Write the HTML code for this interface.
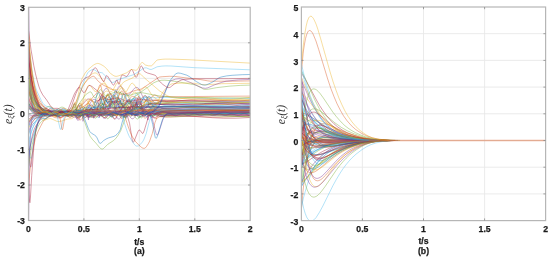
<!DOCTYPE html>
<html><head><meta charset="utf-8"><style>
html,body{margin:0;padding:0;background:#fff;width:550px;height:259px;overflow:hidden}
svg{display:block}
</style></head><body>
<svg width="550" height="259" viewBox="0 0 550 259">
<defs><clipPath id="cl"><rect x="28.5" y="7.3" width="221.7" height="213.2"/></clipPath>
<clipPath id="cr"><rect x="301.4" y="7.0" width="244.2" height="213.6"/></clipPath></defs>
<path d="M83.9 7.3V220.5M362.4 7.0V220.6M139.3 7.3V220.5M423.5 7.0V220.6M194.8 7.3V220.5M484.6 7.0V220.6M28.5 185.0H250.2M28.5 149.4H250.2M28.5 113.9H250.2M28.5 78.4H250.2M28.5 42.8H250.2M301.4 193.9H545.6M301.4 167.2H545.6M301.4 140.5H545.6M301.4 113.8H545.6M301.4 87.1H545.6M301.4 60.4H545.6M301.4 33.7H545.6" stroke="#e9e9e9" stroke-width="0.9" fill="none"/>
<g fill="none" stroke-width="0.5" stroke-opacity="0.85" stroke-linejoin="round" clip-path="url(#cl)">
<path stroke="#7E2F8E" d="M28.5 85.0L30.4 94.9 32.6 102.2 33.7 104.7 34.8 106.6 36.1 108.0 37.7 109.4 42.9 112.9 44.9 113.8 47.1 114.0 51.0 113.0 52.7 112.9 54.5 113.5 58.2 115.6 59.7 115.9 61.6 115.6 64.9 113.8 65.8 113.7 67.7 113.8 68.6 113.6 71.4 111.6 71.9 111.4 72.5 111.4 73.0 111.7 73.8 112.6 76.4 117.8 76.9 118.5 77.5 118.8 78.0 118.6 78.6 118.1 81.3 112.8 82.1 111.8 82.8 111.3 83.4 111.3 84.1 111.8 86.9 115.5 87.6 116.2 88.4 116.5 89.8 116.4 96.9 113.3 98.3 113.0 99.1 113.2 99.8 113.7 102.8 117.3 103.5 117.9 104.1 118.0 104.6 117.8 105.4 117.0 108.1 111.7 108.9 110.8 109.4 110.6 110.0 110.8 110.7 111.6 113.5 117.9 114.2 118.9 115.0 119.3 115.5 119.0 116.3 118.0 119.0 111.8 119.8 110.8 120.3 110.6 120.9 110.7 121.6 111.5 124.6 117.1 125.3 117.8 125.9 118.0 126.4 117.9 127.0 117.5 129.6 114.1 130.3 113.4 131.0 113.0 131.8 112.9 132.7 113.1 139.9 116.4 141.2 116.6 142.5 116.0 145.3 112.7 146.0 112.1 146.6 111.9 147.1 112.0 147.8 112.6 150.6 116.6 151.4 117.4 152.1 117.6 152.7 117.4 153.4 116.9 156.0 113.7 156.7 113.1 157.3 113.0 158.6 113.5 161.3 115.7 162.6 116.0 167.2 115.1 171.5 115.2 186.5 114.4 195.0 114.2 205.7 114.4 231.9 115.9 240.6 115.9 250.2 115.6"/>
<path stroke="#EDB120" d="M28.5 35.7L29.8 56.0 31.4 73.6 33.1 87.5 35.0 97.3 36.5 102.5 37.4 104.3 38.3 105.6 39.8 107.0 45.3 110.8 46.8 111.6 48.4 111.8 51.2 111.4 52.5 111.4 53.8 111.8 56.6 112.9 58.1 113.1 59.5 112.7 62.7 110.7 64.0 110.5 65.5 110.9 68.8 112.9 70.4 113.3 71.9 113.2 76.2 112.0 78.9 111.7 81.0 111.8 85.8 112.4 90.4 111.7 91.9 111.6 93.3 111.8 96.9 112.8 98.5 112.9 100.2 112.1 101.7 110.3 103.0 107.7 105.5 101.0 106.8 99.0 107.6 98.7 108.3 99.2 109.1 100.2 111.3 104.4 112.0 105.2 112.6 105.3 113.1 105.0 113.9 104.0 116.6 98.0 117.2 97.4 117.7 97.2 118.3 97.5 119.0 98.6 121.4 104.8 122.4 106.2 122.7 106.4 123.1 106.3 124.8 104.3 125.1 104.1 125.5 104.3 126.2 105.4 127.9 109.8 128.4 110.6 128.8 110.7 129.2 110.6 129.7 109.8 131.6 105.1 132.1 104.4 132.5 104.4 132.9 104.7 133.4 105.8 135.1 110.7 135.8 112.4 136.8 113.5 137.9 113.9 143.2 113.0 144.7 113.1 148.2 114.2 149.9 114.4 151.5 114.2 155.2 113.3 156.9 113.1 162.8 113.7 170.0 113.4 221.6 113.9 250.2 113.8"/>
<path stroke="#D95319" d="M28.5 62.7L29.8 75.3 31.3 85.5 32.9 93.5 35.0 100.2 37.1 104.9 38.3 106.7 39.5 108.1 40.8 109.2 42.4 110.2 44.5 111.1 46.6 111.7 48.1 112.0 49.6 112.0 54.0 111.1 55.8 111.0 57.7 111.3 61.4 112.5 63.4 112.8 64.7 112.6 67.5 111.5 68.6 111.4 69.9 111.9 72.3 113.7 73.4 113.9 74.1 113.4 75.1 112.0 78.4 104.7 79.1 103.8 79.7 103.6 80.2 103.7 81.0 104.5 83.7 110.1 84.5 111.2 85.2 111.7 86.1 111.7 88.4 110.3 89.5 110.1 90.6 110.6 93.2 112.7 94.5 113.0 95.6 112.6 97.8 111.3 98.9 111.1 100.0 111.5 102.6 113.5 103.7 113.7 105.0 113.0 107.8 109.9 108.5 109.5 109.1 109.5 109.6 109.7 110.3 110.3 112.9 114.0 114.0 114.9 114.6 115.0 115.1 114.9 117.2 113.4 117.7 113.3 118.1 113.4 119.0 114.6 120.7 117.8 121.6 118.6 122.5 118.2 124.6 116.0 129.0 112.3 129.7 111.8 130.5 111.7 131.6 112.1 134.2 114.3 135.3 114.8 136.6 114.7 139.0 113.7 140.3 113.8 141.4 114.7 143.6 117.2 144.7 118.0 145.4 118.0 146.2 117.7 149.0 115.1 150.3 114.6 151.5 115.2 154.5 118.0 155.8 118.5 157.1 118.2 159.9 116.7 161.2 116.5 166.1 117.3 179.1 116.6 188.5 116.4 219.0 117.1 250.2 116.1"/>
<path stroke="#0072BD" d="M28.5 84.7L30.7 93.5 31.7 96.4 32.8 98.7 34.3 100.5 36.9 102.4 38.1 103.5 39.4 105.2 42.8 110.7 43.9 111.8 44.9 112.2 45.6 112.2 46.3 111.8 49.7 108.7 50.5 108.2 51.2 108.1 52.0 108.2 52.7 108.5 56.4 112.2 57.3 112.8 58.1 112.9 59.5 112.6 62.7 110.2 64.2 109.7 65.5 110.1 68.0 111.7 69.3 112.1 73.0 111.4 76.2 111.2 79.9 110.4 81.3 110.7 84.1 111.9 85.2 112.1 86.3 111.8 88.7 110.5 89.8 110.3 90.9 110.6 93.5 111.9 94.8 112.0 95.9 111.5 98.7 109.4 100.9 108.6 101.7 108.1 102.8 106.3 104.8 101.2 105.4 100.5 105.7 100.4 106.5 100.9 108.3 104.0 109.4 105.2 111.8 106.7 113.3 107.1 114.0 107.0 114.8 106.6 117.4 104.2 118.5 103.5 119.8 103.5 122.4 105.1 123.6 105.3 124.9 104.8 127.2 103.1 128.3 102.7 129.4 103.0 132.0 105.0 133.3 105.4 134.5 104.9 136.9 103.0 138.1 102.6 139.3 103.1 141.8 105.1 142.9 105.4 144.0 105.0 146.6 103.1 147.7 102.8 148.8 103.1 151.4 104.8 152.5 105.0 153.6 104.7 156.0 103.7 157.1 103.5 158.2 103.7 160.6 104.4 161.9 104.6 166.0 104.2 170.2 104.2 193.5 103.4 203.6 103.5 230.1 104.1 239.3 104.0 250.2 103.6"/>
<path stroke="#A2142F" d="M28.5 105.4L31.4 108.7 33.7 110.5 34.9 110.9 36.1 111.0 40.2 110.0 42.0 110.1 43.8 111.3 47.4 115.0 48.4 115.5 49.2 115.7 50.0 115.6 50.9 115.1 54.4 111.8 55.3 111.3 56.0 111.1 57.5 111.4 60.8 113.3 62.5 113.8 64.0 113.8 67.3 113.1 70.4 113.0 71.7 112.7 73.6 111.4 77.8 107.3 82.3 104.5 86.7 99.8 87.6 99.2 88.4 99.0 89.8 99.4 93.2 101.7 94.8 102.3 96.3 102.0 99.8 99.7 101.7 99.2 103.0 99.4 106.3 100.8 108.3 101.3 110.9 101.6 114.2 101.5 115.3 101.7 116.3 102.1 117.2 103.0 120.3 107.3 121.1 108.0 121.8 108.2 122.5 107.9 123.5 107.2 127.3 101.8 128.3 101.1 129.0 100.9 130.3 101.4 133.1 104.0 134.4 104.7 135.5 104.8 137.9 104.0 139.0 103.9 140.1 104.2 142.3 105.2 143.4 105.4 144.5 105.3 147.8 104.1 149.1 104.1 151.5 104.9 152.8 105.1 154.1 105.0 156.7 104.3 158.0 104.1 162.1 104.6 166.5 104.7 176.7 105.8 185.2 106.0 192.2 105.6 207.7 103.9 215.8 103.6 224.0 104.1 241.5 106.0 250.2 106.3"/>
<path stroke="#4DBEEE" d="M28.5 76.5L30.4 85.9 32.7 94.5 35.0 100.6 37.3 104.8 39.9 107.7 43.3 110.1 45.5 111.1 50.0 112.5 54.2 114.6 55.7 115.1 56.6 115.1 57.7 114.9 61.6 112.7 63.4 112.4 64.5 112.6 65.6 113.1 69.7 115.8 70.8 116.0 71.7 115.8 74.9 113.7 75.8 113.3 77.3 113.1 77.8 112.7 78.6 111.2 80.0 105.9 80.6 105.1 81.0 105.4 81.3 106.3 83.0 112.3 83.7 113.3 84.5 113.4 86.3 112.4 88.5 111.8 89.7 110.9 90.9 108.9 93.5 103.2 94.6 101.7 95.2 101.5 95.9 101.8 98.9 106.1 99.6 106.8 100.4 106.9 101.1 106.5 101.8 105.5 105.0 99.5 105.7 98.8 106.3 98.6 106.8 98.7 107.6 99.4 110.5 104.2 111.3 105.0 112.0 105.2 112.6 105.1 113.3 104.5 116.3 100.1 117.0 99.3 117.7 98.9 118.5 98.9 119.4 99.4 122.5 103.3 123.3 103.9 124.0 104.2 124.8 104.3 125.7 103.9 129.4 100.3 130.3 99.7 131.2 99.4 132.0 99.6 132.9 100.1 136.2 103.8 137.1 104.4 137.9 104.6 138.6 104.4 139.3 103.8 142.5 99.4 143.2 98.8 143.8 98.8 144.3 99.0 145.1 99.9 148.2 106.1 149.0 107.2 149.9 108.1 151.2 108.6 156.7 109.2 161.3 110.4 171.7 110.5 194.0 108.6 204.8 108.2 214.7 108.5 237.5 110.2 243.9 110.4 250.2 110.3"/>
<path stroke="#77AC30" d="M28.5 89.2L30.5 96.0 31.5 98.4 32.6 100.1 33.9 101.5 37.6 103.9 41.5 108.3 42.4 108.9 43.3 109.1 44.7 108.9 47.8 106.8 49.3 106.4 50.9 106.9 54.0 109.4 55.5 110.0 56.2 110.0 57.1 109.7 60.3 107.6 61.9 107.1 63.4 107.4 66.9 109.4 68.6 109.8 70.1 109.2 72.7 107.3 73.8 107.0 74.9 107.5 77.3 109.7 78.4 110.1 79.5 109.7 81.9 107.6 83.2 107.0 84.5 107.5 87.1 109.7 88.2 110.1 89.5 109.5 91.9 107.3 93.0 106.9 94.3 107.2 97.0 108.9 97.8 109.0 98.3 108.9 99.4 108.0 102.2 104.6 103.1 104.0 103.9 103.9 104.8 104.1 106.6 105.3 107.8 105.7 108.9 105.5 111.1 104.4 112.2 104.5 113.3 105.4 115.9 108.9 116.6 109.4 117.2 109.5 117.7 109.2 118.5 108.5 121.2 104.2 121.8 103.8 122.4 103.6 122.9 103.8 123.6 104.6 126.2 109.3 127.3 110.4 127.9 110.5 128.6 110.2 131.6 106.4 132.3 105.8 133.1 105.7 134.0 106.2 136.4 108.9 137.5 109.7 138.6 109.6 141.0 108.3 142.1 108.5 143.2 109.5 145.6 113.1 146.7 113.8 147.8 113.4 150.4 110.5 151.2 110.0 151.7 109.9 152.8 110.3 155.4 112.6 156.5 112.9 157.6 112.7 160.0 111.5 161.2 111.2 162.3 111.4 164.8 112.3 166.1 112.5 187.2 112.8 203.1 112.4 236.2 110.8 250.2 110.4"/>
<path stroke="#7E2F8E" d="M28.5 122.8L30.7 119.8 33.6 117.4 35.5 116.4 42.7 113.6 44.2 113.2 45.5 113.3 49.7 114.9 51.4 115.1 53.1 114.6 56.4 112.8 57.9 112.5 59.4 112.7 62.7 114.1 64.3 114.4 69.1 114.2 70.4 114.0 72.7 113.1 73.8 113.1 74.5 113.8 75.1 114.7 77.3 119.9 77.8 120.4 78.2 120.4 79.1 119.4 81.7 114.8 85.4 111.2 86.9 109.4 88.2 107.3 90.9 102.1 92.4 100.1 93.3 99.5 94.3 99.4 95.2 99.7 96.9 100.6 97.8 100.8 98.7 100.5 99.6 99.7 101.1 97.4 104.2 90.4 105.5 88.6 106.5 88.3 107.0 88.5 107.6 89.1 108.5 90.5 111.3 96.1 112.2 97.2 113.1 97.4 113.9 96.9 114.8 95.5 118.3 87.4 119.2 86.2 120.0 85.8 120.9 86.1 121.8 87.1 124.6 92.3 125.7 94.0 126.6 94.9 127.5 95.2 128.4 95.0 129.6 94.2 133.3 89.6 134.7 88.1 136.2 87.4 137.5 87.6 138.4 88.3 139.3 89.5 142.9 96.9 143.8 98.5 144.9 99.8 146.0 100.6 151.2 103.6 156.2 104.7 157.8 104.8 161.5 104.1 163.6 103.9 172.1 104.0 190.0 104.9 197.7 105.0 220.1 103.9 227.7 103.7 235.6 103.9 250.2 104.7"/>
<path stroke="#EDB120" d="M28.5 55.2L29.8 68.0 31.3 79.0 32.8 87.5 34.8 94.9 37.6 102.4 39.0 105.5 40.5 108.1 41.9 109.9 43.4 111.4 44.9 112.4 46.5 113.0 48.0 113.2 49.6 113.1 54.4 111.6 56.2 111.5 58.2 112.2 62.1 114.9 63.8 115.4 65.1 115.1 67.7 113.5 69.0 113.1 70.3 113.5 72.7 114.9 73.9 115.0 75.1 114.4 77.6 112.1 78.8 111.6 79.9 111.9 82.4 113.3 83.6 113.4 84.5 112.6 85.2 111.3 86.1 108.8 88.7 100.5 89.7 98.7 90.4 98.2 90.9 98.4 91.7 99.4 93.9 104.8 95.0 106.8 95.7 107.6 97.6 108.9 98.5 109.2 99.1 108.7 99.6 107.5 101.5 100.1 102.4 97.6 102.8 97.2 103.1 97.2 104.6 98.5 105.2 98.5 105.7 97.8 106.8 95.1 107.4 94.4 107.9 94.9 109.6 100.4 110.0 101.1 110.3 101.4 110.7 101.2 111.1 100.7 112.7 97.1 113.5 95.9 114.2 95.4 115.0 95.6 115.5 96.2 116.3 97.6 119.0 104.4 119.8 105.5 120.5 106.0 121.2 105.8 122.0 104.9 125.1 97.8 125.9 96.7 126.6 96.0 127.3 96.1 128.3 97.0 131.6 103.9 132.3 104.9 133.1 105.3 133.8 105.2 134.5 104.5 137.3 100.1 137.9 99.7 138.4 99.7 139.2 100.2 139.9 101.4 142.9 108.7 144.3 110.9 145.6 111.6 149.1 111.8 153.0 112.9 154.7 112.9 158.2 112.0 160.0 111.8 168.9 112.3 181.7 113.4 191.8 113.5 200.3 112.9 218.8 110.9 227.8 110.4 237.1 110.7 250.2 111.8"/>
<path stroke="#D95319" d="M28.5 114.0L32.1 113.2 35.6 113.9 36.8 114.0 40.1 113.1 41.3 112.9 42.8 113.3 45.8 114.9 47.1 115.1 48.5 114.6 51.8 112.0 53.1 111.6 54.4 112.0 57.3 114.3 58.6 114.8 60.1 114.7 62.9 113.1 64.2 112.7 65.5 113.1 67.9 114.6 68.8 114.7 70.1 114.1 72.5 111.6 73.6 111.3 74.1 111.5 74.9 112.1 77.8 116.6 78.4 117.0 79.1 117.1 79.9 116.6 80.6 115.5 84.7 107.1 85.8 105.3 86.9 104.0 88.0 103.5 88.9 103.7 89.8 104.3 92.4 107.0 93.2 107.3 93.9 107.2 94.6 106.6 95.6 105.5 98.7 100.1 100.2 98.2 100.9 97.7 101.7 97.6 104.1 98.9 104.8 98.9 105.7 97.9 107.2 95.4 107.9 94.8 108.3 95.0 108.9 95.8 111.1 101.4 111.8 102.6 112.6 103.4 114.2 104.0 117.7 104.5 119.8 104.3 122.5 103.4 123.5 103.5 124.2 103.8 125.9 105.3 133.6 114.6 134.4 115.3 135.1 115.5 135.8 115.4 136.8 114.7 139.9 110.2 140.6 109.5 141.4 109.3 141.9 109.4 142.7 109.9 145.8 114.3 146.7 115.2 147.5 115.4 148.2 115.3 149.0 114.8 151.9 111.9 153.4 111.4 154.5 111.6 156.9 112.7 158.2 113.1 163.0 112.6 168.5 113.4 178.5 113.1 198.1 111.8 207.5 111.5 217.1 111.6 238.4 112.6 250.2 112.5"/>
<path stroke="#0072BD" d="M28.5 86.3L29.6 93.3 30.8 99.0 32.1 103.5 33.4 106.4 34.4 107.8 35.5 108.8 38.9 110.7 42.7 113.5 44.6 114.2 46.1 114.0 49.7 112.0 51.4 111.7 53.1 112.2 56.6 114.7 57.5 115.0 58.4 115.0 60.1 114.4 63.2 112.0 64.7 111.6 65.8 111.9 68.4 113.4 69.5 113.9 70.6 114.0 73.6 113.7 76.9 114.2 78.2 113.8 81.3 111.8 82.6 111.4 83.4 111.5 84.3 112.1 87.6 115.2 88.5 115.5 89.5 115.4 90.8 114.5 93.5 111.4 94.6 110.6 95.9 110.5 98.9 111.6 100.4 111.6 101.7 110.9 104.4 108.1 105.7 107.2 107.0 106.8 109.4 106.6 110.5 106.0 111.3 105.1 112.0 103.3 114.6 92.1 115.1 90.6 115.5 90.3 115.9 90.4 116.4 91.4 118.5 98.8 119.6 101.7 120.9 103.4 121.6 103.9 122.4 104.1 123.1 104.0 123.8 103.7 127.0 100.6 128.4 99.9 129.2 100.0 129.9 100.3 132.7 102.5 134.2 103.2 135.5 103.0 138.2 101.6 139.3 101.3 140.6 101.4 143.0 102.3 144.0 102.3 144.7 101.9 145.3 101.4 147.8 97.0 148.4 96.4 149.0 96.2 149.5 96.3 150.3 97.1 152.5 100.6 153.6 102.0 154.7 102.8 155.8 103.0 156.9 102.9 159.9 101.8 161.5 101.6 167.4 102.2 215.1 101.3 250.2 101.2"/>
<path stroke="#A2142F" d="M28.5 160.1L29.8 149.3 31.1 141.1 32.5 134.8 34.1 129.7 35.2 127.2 36.6 124.7 43.1 115.1 45.7 112.1 46.9 111.3 48.0 110.8 49.2 110.8 50.5 111.1 55.7 114.3 57.0 114.8 58.2 115.0 59.4 114.9 60.6 114.4 65.5 111.1 67.7 110.2 69.5 110.4 73.2 112.3 74.9 112.7 79.1 112.4 83.6 112.5 88.0 111.9 93.2 112.6 94.8 112.3 97.8 111.0 99.1 110.6 100.6 110.5 103.3 110.9 104.8 110.8 106.1 110.2 109.1 108.4 110.3 107.9 111.6 107.8 114.6 108.4 115.9 108.4 117.4 108.0 120.3 106.7 121.8 106.4 123.1 106.6 126.0 107.4 127.3 107.6 132.5 106.7 137.1 107.3 142.3 106.8 147.1 107.4 152.7 106.7 157.8 107.3 163.0 106.8 175.2 106.5 197.4 106.4 211.6 106.8 250.2 108.6"/>
<path stroke="#4DBEEE" d="M28.5 106.3L33.2 112.8 34.2 113.7 35.2 114.2 36.6 114.0 39.8 112.0 41.4 111.5 42.9 111.9 46.2 114.0 47.9 114.6 49.7 114.5 53.3 113.0 54.9 112.7 56.6 112.8 60.3 113.7 61.9 113.9 63.2 113.8 66.7 113.0 68.2 113.4 71.2 115.3 72.3 115.5 73.0 115.3 73.8 114.7 76.9 111.0 77.6 110.6 78.2 110.5 78.9 110.8 79.9 111.6 83.4 116.4 84.1 117.0 84.8 117.2 85.6 117.0 86.3 116.5 89.8 111.9 90.8 111.2 91.5 110.9 92.2 111.0 93.2 111.7 96.7 116.4 97.6 117.2 98.3 117.4 99.1 117.3 99.8 116.8 103.5 111.8 104.4 111.1 105.2 110.9 106.1 111.2 107.0 112.0 110.5 116.7 111.3 117.3 112.0 117.4 112.7 117.2 113.5 116.7 117.0 111.9 117.9 111.1 118.7 110.9 119.4 111.0 120.3 111.7 123.8 116.5 124.8 117.2 125.5 117.4 126.2 117.3 127.0 116.7 130.7 111.9 131.6 111.1 132.3 110.9 133.1 111.1 134.0 111.9 137.7 116.7 138.4 117.2 139.2 117.4 139.9 117.1 140.6 116.6 144.0 112.3 144.9 111.6 145.6 111.3 146.4 111.5 147.1 111.9 150.4 115.3 151.4 115.9 152.3 116.2 153.8 115.8 157.3 113.6 158.7 113.2 160.2 113.4 163.4 114.5 165.2 114.7 170.6 114.2 197.0 113.3 209.2 113.2 235.8 113.6 250.2 113.4"/>
<path stroke="#77AC30" d="M28.5 101.8L30.3 106.0 31.9 108.2 33.1 109.0 35.4 109.6 36.5 110.1 40.7 113.8 41.6 114.1 42.5 113.9 45.9 111.4 46.6 111.0 47.3 111.0 48.6 111.7 51.6 114.8 52.9 115.3 54.2 114.7 57.1 111.5 57.9 110.9 58.6 110.7 59.2 110.8 59.9 111.2 62.9 114.6 63.6 115.2 64.3 115.4 64.9 115.3 65.6 114.8 68.2 112.2 69.3 111.7 70.3 111.9 72.3 113.2 73.4 113.5 74.3 113.4 77.1 112.7 81.2 113.7 82.3 113.6 85.4 112.7 89.8 113.5 93.9 112.6 95.0 112.8 97.4 113.9 98.5 114.1 99.8 113.8 102.4 112.4 103.5 112.2 104.8 112.6 107.2 114.2 108.3 114.5 109.4 114.3 112.0 112.4 113.3 112.0 114.4 112.3 117.0 114.1 118.3 114.5 119.4 114.2 121.8 112.7 123.1 112.4 124.2 112.6 126.6 113.7 127.7 113.9 128.8 113.8 132.0 112.9 133.1 113.0 136.4 113.7 140.6 112.7 141.8 112.9 144.0 113.9 145.1 114.1 146.2 113.9 148.6 112.8 149.7 112.5 150.8 112.6 153.6 113.7 154.9 113.9 159.7 112.6 163.9 112.8 169.5 112.2 178.7 112.0 194.8 112.1 230.6 113.2 250.2 113.1"/>
<path stroke="#7E2F8E" d="M28.5 115.9L30.0 115.9 33.6 115.2 35.3 115.1 37.2 115.4 41.1 116.8 43.1 117.0 45.1 116.5 49.4 114.8 51.4 114.5 53.4 115.0 57.9 117.0 59.9 117.3 61.9 116.8 66.0 114.5 67.7 114.1 69.1 114.5 72.5 116.8 73.9 117.3 75.8 117.0 80.0 115.1 82.4 114.7 85.2 115.1 89.5 116.8 91.1 117.1 93.0 116.6 96.7 113.8 97.6 113.4 98.3 113.3 99.1 113.5 100.0 114.0 103.5 117.6 104.4 118.1 105.2 118.3 105.9 118.1 106.8 117.5 110.3 113.1 111.3 112.4 112.0 112.3 112.9 112.6 113.9 113.4 117.4 118.2 118.1 118.8 118.8 119.0 119.6 118.7 120.5 117.9 124.0 112.9 124.9 112.1 125.7 112.0 126.4 112.3 127.3 113.1 130.9 118.0 131.8 118.7 132.5 118.8 133.3 118.6 134.0 117.9 137.1 113.8 138.1 112.9 138.8 112.6 139.5 112.6 140.5 113.0 143.6 116.1 144.3 116.4 144.9 116.3 146.0 115.1 148.4 110.9 149.0 110.4 149.5 110.3 150.4 110.7 152.7 113.2 154.3 114.4 157.1 115.6 159.7 116.0 183.3 115.9 227.1 115.1 250.2 115.1"/>
<path stroke="#EDB120" d="M28.5 77.9L29.5 85.8 30.7 92.5 32.2 98.2 34.2 104.2 36.4 109.3 38.5 112.7 40.4 114.6 41.5 115.1 42.8 115.4 45.3 115.4 47.8 115.1 49.6 114.6 53.3 113.1 55.1 112.8 56.8 113.1 61.0 115.0 63.4 115.5 68.0 115.9 69.7 115.8 71.4 115.2 74.5 113.5 76.0 113.2 77.6 113.6 81.2 115.4 83.0 115.6 85.2 114.7 89.3 111.9 91.3 110.9 93.3 110.5 97.6 110.7 99.6 110.5 101.7 109.7 106.5 106.9 107.8 106.5 109.1 106.3 110.9 106.6 115.1 107.9 117.0 108.1 119.2 107.8 124.0 106.5 125.3 106.4 126.2 106.5 127.0 106.9 127.7 107.9 129.6 112.3 130.1 113.1 130.5 113.3 131.0 112.9 132.7 109.7 133.8 108.4 141.4 106.4 142.5 105.9 143.2 105.4 144.7 103.1 146.9 97.9 147.5 97.0 148.0 96.7 148.6 97.0 149.3 98.2 151.4 103.6 152.3 105.5 153.2 106.6 154.5 107.1 160.4 106.6 171.5 106.4 201.6 107.9 215.5 108.2 228.0 107.9 250.2 106.8"/>
<path stroke="#D95319" d="M28.5 97.8L29.8 101.8 31.4 105.3 34.0 109.7 36.2 112.6 37.3 113.5 38.4 114.0 41.8 114.1 43.2 114.4 47.4 116.6 48.4 116.7 49.3 116.5 52.7 114.7 54.2 114.4 55.7 114.8 59.0 117.1 60.5 117.4 61.8 117.0 64.5 115.0 65.6 114.7 66.7 115.1 69.0 117.1 69.9 117.4 70.8 117.0 73.0 114.3 73.6 113.9 74.1 113.7 75.1 114.1 77.5 117.5 78.0 118.0 78.6 118.2 79.1 118.1 79.7 117.7 81.9 114.9 82.6 114.3 83.2 114.1 84.1 114.4 86.5 116.7 87.8 117.2 88.7 117.0 90.8 115.5 91.7 115.1 92.8 115.2 95.0 116.5 96.1 116.8 97.2 116.5 99.4 114.9 100.6 114.6 101.7 115.2 103.9 117.4 105.0 117.8 105.5 117.7 106.3 117.1 108.7 114.0 109.2 113.6 109.8 113.5 110.3 113.7 111.1 114.5 113.5 118.2 114.0 118.6 114.6 118.8 115.1 118.5 115.9 117.7 118.1 113.7 119.0 112.7 119.6 112.5 120.3 112.8 122.9 116.3 123.6 116.8 124.2 116.8 124.8 116.4 125.3 115.6 127.9 109.7 129.0 108.1 129.6 107.9 130.1 107.9 132.7 110.1 133.3 110.2 133.8 110.1 134.9 108.9 137.3 104.3 138.6 102.7 139.7 102.4 141.9 103.4 143.0 103.5 144.2 102.8 146.4 100.6 147.5 100.1 148.4 100.1 150.4 101.1 151.4 101.3 152.3 101.2 154.5 100.3 155.6 100.1 156.5 100.3 158.9 101.4 160.0 101.7 164.3 101.2 168.7 101.8 175.2 101.3 190.9 99.5 198.8 99.1 208.1 99.3 224.9 100.7 232.3 101.0 240.6 100.9 250.2 100.0"/>
<path stroke="#0072BD" d="M28.5 108.3L29.8 109.1 34.0 111.1 38.9 112.8 43.0 115.0 44.6 115.4 46.2 115.1 49.9 112.6 51.8 112.1 53.1 112.3 57.0 113.7 60.8 113.5 62.1 113.7 63.6 114.3 66.0 115.8 66.9 116.1 67.7 116.1 68.4 115.7 71.4 113.0 72.7 112.4 73.9 112.8 76.5 114.9 77.6 115.1 78.9 114.4 81.7 111.7 82.4 111.4 83.0 111.4 83.7 111.7 84.5 112.3 87.8 116.7 88.5 117.2 89.3 117.4 89.8 117.3 90.6 116.8 93.7 112.8 94.5 112.1 95.2 111.7 95.9 111.7 96.7 112.1 99.4 114.6 100.7 115.3 101.5 115.4 102.2 115.2 105.2 113.4 106.5 113.2 107.8 113.7 110.7 116.1 111.8 116.4 112.6 116.2 113.3 115.7 116.6 111.8 117.4 111.2 118.1 111.0 118.8 111.2 119.8 112.0 123.1 116.4 123.8 117.0 124.6 117.1 125.3 116.9 126.0 116.4 129.2 113.0 129.9 112.5 130.7 112.4 132.0 112.8 134.7 114.8 135.8 115.1 137.1 114.7 140.1 112.8 141.4 112.7 142.7 113.4 145.4 116.1 146.7 116.6 147.5 116.5 148.2 116.1 151.4 112.9 152.3 112.3 153.0 112.2 154.5 112.6 157.6 114.5 159.1 114.9 160.4 114.7 163.4 113.8 165.0 113.7 206.8 114.4 250.2 113.1"/>
<path stroke="#A2142F" d="M28.5 67.9L30.2 78.8 32.2 87.9 35.7 99.0 37.3 103.1 38.7 106.0 40.0 107.9 41.3 108.9 42.6 109.2 45.7 108.7 47.3 108.9 48.8 109.6 52.1 112.0 53.6 112.6 55.5 112.5 59.0 110.9 60.6 110.6 62.3 110.9 65.6 112.7 67.1 113.1 68.2 113.0 70.8 112.1 71.9 111.9 73.2 112.1 75.8 113.1 76.9 113.2 78.0 113.0 80.4 112.0 81.5 111.9 83.2 112.5 86.3 115.0 87.6 115.3 89.1 114.8 92.2 112.2 93.0 111.8 93.7 111.8 95.2 112.5 98.3 115.5 99.6 115.9 100.4 115.8 101.1 115.3 104.4 111.9 105.7 111.4 107.0 112.0 110.2 115.4 110.9 115.9 111.6 116.1 112.4 116.0 113.1 115.5 116.3 112.2 117.2 111.6 117.9 111.4 118.7 111.6 119.4 112.1 122.5 115.4 123.8 115.9 125.1 115.5 128.4 112.4 129.2 111.9 129.9 111.8 130.7 111.9 131.4 112.3 134.7 115.1 136.0 115.4 137.5 115.0 140.5 112.8 141.9 112.4 143.2 112.7 146.2 114.4 147.5 114.6 148.8 114.5 151.7 113.4 153.0 113.3 158.4 114.1 162.8 113.9 168.9 114.1 204.4 113.9 250.2 115.3"/>
<path stroke="#4DBEEE" d="M28.5 105.8L29.7 108.1 31.0 109.5 32.0 110.1 34.4 110.8 35.6 111.3 39.6 114.6 41.2 115.4 42.1 115.5 43.0 115.3 46.8 113.2 48.6 112.8 49.8 113.0 52.7 113.9 54.0 114.2 55.5 114.1 58.4 113.4 59.9 113.4 61.4 113.8 64.2 115.2 65.6 115.5 67.3 115.1 71.0 113.3 73.2 113.0 77.5 113.4 81.9 114.7 83.4 114.9 85.0 114.7 88.5 113.4 90.4 113.0 91.9 113.2 95.0 114.3 96.7 114.6 98.3 114.5 102.6 113.9 109.6 113.6 111.8 113.7 115.1 114.6 116.6 114.6 118.5 114.1 122.0 112.0 123.5 111.4 124.9 111.2 128.1 111.4 129.6 111.2 131.2 110.6 134.9 108.3 136.8 107.5 139.0 107.0 144.2 106.4 149.9 106.6 156.0 105.9 162.6 107.1 170.4 107.2 175.0 106.8 188.9 105.3 197.0 105.0 204.4 105.4 219.9 107.0 227.5 107.2 235.1 106.8 250.2 105.2"/>
<path stroke="#77AC30" d="M28.5 107.7L35.1 113.6 36.3 114.4 37.5 114.7 38.4 114.7 39.4 114.4 43.6 111.9 44.6 111.5 45.6 111.4 47.5 111.9 51.8 114.7 53.8 115.4 54.7 115.4 55.8 115.1 60.3 112.6 61.4 112.2 62.7 112.0 64.7 112.5 68.6 115.1 69.5 115.5 70.3 115.5 71.7 114.8 74.7 112.2 76.2 111.7 77.6 112.1 80.4 113.9 81.9 114.6 83.4 114.9 85.2 114.8 91.7 112.8 95.4 112.7 98.5 110.9 100.7 110.2 101.7 109.6 102.6 108.3 103.5 106.1 106.6 95.2 107.2 94.2 107.9 93.6 108.7 94.1 109.6 96.0 112.0 104.3 112.9 106.9 113.7 108.1 114.0 108.2 114.4 108.1 115.1 107.1 115.9 105.1 118.8 94.2 119.6 92.6 120.0 92.3 120.3 92.2 121.1 92.9 121.8 94.7 124.6 105.6 125.3 107.8 125.9 108.8 126.6 109.3 127.3 108.9 130.3 102.5 131.0 101.8 131.8 101.9 132.5 102.8 133.3 104.4 135.8 112.3 136.9 115.0 138.1 116.9 139.2 117.6 139.9 117.5 140.6 117.0 144.2 112.4 145.1 111.6 145.8 111.4 146.6 111.6 147.3 112.0 150.6 115.1 151.5 115.6 152.3 115.7 153.6 115.4 157.1 113.7 158.9 113.4 165.0 114.0 204.0 114.4 222.9 114.3 250.2 113.6"/>
<path stroke="#7E2F8E" d="M28.5 91.4L30.3 97.6 31.2 99.9 32.1 101.5 33.5 103.1 36.1 104.9 37.4 106.0 41.5 111.3 43.3 112.9 45.0 113.7 47.2 113.6 49.8 112.7 54.5 110.3 55.7 110.0 56.6 110.0 57.5 110.3 58.6 111.0 62.5 114.9 63.4 115.5 64.2 115.6 65.1 115.5 66.0 114.9 69.0 112.2 71.4 110.3 72.3 108.6 73.8 104.3 74.3 103.5 74.7 103.6 75.1 104.3 76.7 110.2 77.5 112.0 78.4 112.9 80.0 113.1 81.5 112.8 86.3 110.3 87.6 109.0 90.0 105.8 91.1 104.9 91.7 104.9 92.4 105.3 94.5 107.7 95.2 108.3 95.9 108.5 96.5 108.4 97.6 107.3 100.0 103.6 101.1 102.9 101.8 103.1 102.6 103.8 105.7 108.9 106.5 109.4 107.0 109.4 107.6 109.1 108.3 108.2 110.5 104.1 111.5 102.8 112.2 102.3 114.2 102.1 116.1 100.3 116.6 100.1 117.2 100.5 117.7 101.6 120.0 109.0 120.7 110.8 121.4 111.8 122.0 112.1 122.7 112.2 125.1 111.2 126.4 111.2 127.7 111.7 130.7 113.9 132.0 114.3 132.7 114.2 133.6 113.8 136.9 111.1 138.2 110.5 139.0 110.4 139.9 110.6 143.0 112.4 144.7 112.7 146.4 112.0 149.7 109.4 150.6 109.0 151.5 108.8 152.8 109.0 155.6 109.9 156.9 110.0 162.8 109.0 169.8 109.4 219.5 107.8 234.3 107.7 250.2 108.0"/>
<path stroke="#EDB120" d="M28.5 83.6L29.5 92.0 30.5 98.4 31.6 103.4 32.9 107.2 34.1 109.3 35.6 111.0 40.6 115.0 41.7 115.7 42.8 116.0 44.3 115.9 47.3 114.9 48.5 114.7 50.0 114.8 53.3 116.1 54.7 116.4 56.2 116.2 59.2 115.1 60.6 114.8 62.1 114.9 65.1 116.1 66.6 116.3 67.9 116.2 71.4 115.0 72.5 115.0 74.5 115.3 76.2 115.0 77.6 114.1 79.1 112.1 80.4 109.4 83.4 101.7 84.1 100.3 84.8 99.4 85.6 99.1 86.3 99.5 90.2 105.4 91.3 106.2 92.2 106.2 93.0 105.7 93.9 104.7 96.9 99.7 98.9 96.9 100.4 94.3 100.9 93.9 101.3 94.1 101.8 95.1 103.5 100.9 104.2 102.9 105.2 104.4 106.1 105.2 107.2 105.4 108.3 104.8 109.4 103.5 112.7 98.6 113.9 97.7 114.8 97.7 115.5 98.0 116.4 98.9 119.6 103.9 121.1 105.5 122.0 105.7 122.7 105.5 125.9 102.3 126.8 101.8 127.5 101.9 128.6 102.8 131.2 106.1 132.1 106.7 133.8 107.1 134.5 107.5 135.5 108.5 138.1 112.2 139.0 112.9 140.1 113.2 143.8 113.2 148.8 113.9 154.9 113.3 161.0 113.9 171.5 114.1 222.7 112.3 236.0 112.2 250.2 112.2"/>
<path stroke="#D95319" d="M28.5 41.7L30.1 58.3 31.7 71.5 33.6 82.3 35.6 90.5 36.9 94.3 38.3 97.6 40.0 100.9 41.8 103.8 43.8 106.5 45.8 108.6 47.6 110.0 49.5 110.9 52.0 111.3 58.4 110.9 66.2 112.2 73.9 112.2 75.8 112.1 80.2 111.3 86.1 111.4 91.9 110.1 93.5 110.1 96.7 110.7 98.2 110.7 103.5 109.4 105.0 109.5 108.3 110.5 110.0 110.7 111.5 110.4 114.8 109.4 116.3 109.3 117.7 109.6 120.7 110.6 122.0 110.8 123.6 110.5 126.8 109.4 128.3 109.2 129.7 109.5 132.9 110.6 134.2 110.8 135.7 110.6 138.8 109.4 140.3 109.2 141.6 109.3 144.7 110.5 146.2 110.7 147.7 110.6 150.8 109.6 152.3 109.5 156.9 110.3 158.6 110.5 163.2 110.3 170.9 110.5 192.0 109.6 201.6 109.4 211.2 109.6 234.9 110.6 250.2 110.5"/>
<path stroke="#0072BD" d="M28.5 68.9L30.2 79.4 32.0 88.8 33.9 96.1 35.6 101.1 36.9 103.6 38.4 105.5 41.5 108.3 45.4 112.4 46.7 113.3 47.9 113.7 52.5 113.7 56.6 115.3 57.9 115.5 59.2 115.3 62.1 114.0 63.4 113.8 64.5 114.2 66.9 116.1 68.0 116.4 69.1 115.9 71.5 113.5 72.7 112.7 73.8 112.3 77.6 111.7 79.1 112.1 81.7 114.1 82.8 114.3 83.6 113.9 84.3 112.9 87.1 106.9 88.2 105.3 88.7 105.1 89.5 105.4 92.1 109.1 92.6 109.6 93.2 109.7 93.7 109.4 94.3 108.6 96.7 103.5 97.2 102.8 97.8 102.6 98.7 103.3 100.9 106.9 102.0 107.9 103.1 107.8 105.4 106.5 106.1 106.4 106.6 106.7 107.8 108.2 110.3 113.2 111.1 114.0 111.6 114.2 112.2 114.0 112.9 113.1 115.7 107.5 116.4 106.5 117.0 106.1 117.5 106.0 118.3 106.3 120.7 109.0 121.8 109.8 122.7 110.1 125.1 110.4 127.9 112.0 128.8 112.3 129.6 112.0 130.3 111.3 133.3 106.1 134.0 105.2 134.5 105.0 135.3 105.4 136.0 106.3 138.2 111.1 139.2 112.7 139.9 113.4 140.6 113.4 141.8 112.5 144.9 108.2 149.3 103.8 150.1 103.3 150.6 103.1 151.4 103.3 152.1 104.0 155.4 109.7 156.3 110.7 157.3 111.2 158.6 110.8 161.3 108.8 162.8 108.5 167.6 109.5 183.0 110.3 191.3 110.3 207.3 109.5 214.7 109.4 222.1 109.6 239.5 110.7 250.2 110.8"/>
<path stroke="#A2142F" d="M28.5 119.4L30.8 117.5 35.8 114.6 39.3 113.1 42.1 112.4 44.6 112.5 48.9 114.2 50.9 114.5 52.9 113.9 57.0 111.6 58.1 111.3 59.0 111.3 60.5 111.7 63.0 112.9 66.0 113.8 68.4 114.9 69.7 115.1 70.4 114.7 71.2 114.0 73.9 110.0 74.5 109.5 75.1 109.3 75.8 109.6 76.5 110.5 79.3 115.5 80.0 116.2 80.6 116.3 81.3 116.0 82.1 115.2 85.0 110.3 86.0 109.6 86.7 109.7 88.0 111.0 91.1 116.1 92.2 117.1 93.2 117.4 94.1 117.2 94.8 116.7 97.4 113.1 98.5 112.3 99.1 112.3 99.6 112.5 102.2 114.9 103.3 115.1 104.6 114.4 107.4 111.4 108.1 111.0 108.9 110.9 110.2 111.5 112.9 114.0 113.7 114.4 114.4 114.4 115.5 114.0 117.9 112.1 119.0 111.6 120.1 111.5 122.5 112.1 123.6 112.0 124.8 111.1 127.3 107.9 128.4 107.3 129.2 107.5 129.9 108.0 133.4 112.3 134.2 112.8 134.9 112.9 136.2 112.3 139.0 109.3 140.3 108.4 141.6 108.3 144.3 109.2 145.6 108.9 146.9 107.7 149.7 104.0 151.0 103.0 152.3 102.8 154.9 103.7 156.2 103.8 157.5 103.3 160.2 101.4 161.7 100.9 166.5 101.6 171.1 101.2 179.4 100.9 195.3 100.8 205.7 101.2 232.6 102.8 241.5 103.0 250.2 103.0"/>
<path stroke="#4DBEEE" d="M28.5 76.9L30.0 88.4 31.6 98.2 33.3 105.0 34.1 107.3 35.0 109.0 36.1 110.3 36.7 110.6 37.4 110.6 38.6 110.2 41.8 108.1 42.8 107.9 43.8 108.0 44.8 108.5 45.8 109.4 49.9 114.4 51.0 115.2 52.0 115.5 53.1 115.4 54.2 114.8 58.6 110.0 59.7 109.2 60.8 108.8 61.8 108.9 62.7 109.4 65.6 112.1 67.1 113.1 69.1 113.7 71.7 114.1 72.8 114.0 73.8 113.6 76.9 111.3 78.2 110.8 79.9 110.9 83.9 112.5 86.9 112.7 89.1 112.4 91.5 111.7 94.5 109.5 95.4 109.1 96.1 109.1 98.0 109.7 98.7 109.8 99.4 109.3 100.2 108.2 103.1 100.3 103.9 98.9 104.4 98.5 105.0 98.6 105.7 99.4 108.7 106.0 109.4 107.0 110.2 107.3 110.9 106.7 111.6 105.3 114.4 98.0 115.1 97.0 115.7 96.7 116.3 96.8 117.0 97.7 119.8 103.5 120.5 104.3 121.1 104.4 121.6 104.1 122.4 102.9 124.9 96.2 125.7 94.8 126.2 94.2 127.0 94.1 127.7 94.8 130.5 100.1 131.2 100.9 131.8 101.1 132.3 101.0 133.1 100.1 135.8 94.5 136.6 93.6 137.1 93.3 137.7 93.4 138.4 94.1 140.8 98.4 141.9 99.6 142.5 99.8 143.0 99.6 145.4 97.4 146.2 97.1 146.7 97.1 147.8 98.2 150.3 102.3 151.7 103.9 152.8 104.6 155.6 105.6 158.9 106.4 160.6 106.5 164.5 106.0 169.8 106.3 192.0 105.6 204.9 105.6 217.3 105.9 250.2 107.6"/>
<path stroke="#77AC30" d="M28.5 78.4L30.4 87.0 32.6 94.1 35.4 101.3 38.1 106.3 39.5 108.0 41.0 109.1 42.1 109.5 46.0 110.4 50.7 113.2 52.9 113.9 57.0 114.2 60.8 114.9 62.3 115.0 63.8 114.7 66.7 113.3 67.9 113.1 69.1 113.7 71.7 116.3 72.7 116.6 73.2 116.4 73.9 115.8 76.5 112.3 77.1 111.9 77.6 111.9 78.6 112.4 80.8 115.1 81.9 115.9 82.4 116.0 83.2 115.8 85.6 113.9 86.7 113.5 87.3 113.7 88.0 114.2 90.4 116.8 91.5 117.2 92.1 117.1 92.8 116.4 95.7 112.0 96.3 111.5 96.9 111.4 97.4 111.5 98.2 112.1 100.6 115.6 101.7 116.5 102.2 116.6 103.0 116.4 105.5 114.1 106.6 113.7 107.8 114.2 110.2 116.4 111.1 116.7 111.6 116.6 112.4 116.0 115.1 112.1 115.9 111.5 116.4 111.4 117.0 111.5 117.7 112.2 120.5 116.4 121.2 117.0 121.8 117.2 122.9 116.7 125.3 114.2 126.4 113.6 127.5 113.9 130.1 115.9 130.9 116.1 131.4 116.0 132.5 115.1 134.7 112.3 135.5 111.7 136.0 111.6 136.6 111.8 137.3 112.5 140.3 117.1 140.8 117.6 141.4 117.8 141.9 117.7 142.7 117.1 145.3 114.1 146.4 113.7 147.3 113.9 149.5 115.5 150.6 115.9 151.7 115.7 154.3 114.2 155.6 114.0 156.7 114.5 159.3 116.3 160.8 116.7 164.8 116.1 170.6 116.7 179.1 116.6 202.2 114.8 212.3 114.4 221.7 114.8 241.1 116.5 250.2 117.0"/>
<path stroke="#7E2F8E" d="M28.5 106.0L30.6 107.9 32.7 109.3 37.6 111.2 41.8 113.8 43.6 114.3 45.3 113.9 49.0 111.2 49.9 110.8 50.9 110.6 52.3 111.0 55.8 112.9 57.9 113.5 61.8 113.4 65.3 113.8 69.7 112.5 72.8 113.2 73.9 113.2 75.1 112.6 76.0 111.5 76.7 109.9 78.2 105.7 78.6 105.1 78.9 104.9 79.3 105.3 79.7 106.1 81.5 112.0 82.3 113.2 83.0 113.8 84.3 113.8 86.9 112.6 88.2 112.4 89.3 112.6 91.7 113.8 93.0 114.0 94.1 113.6 96.5 112.1 97.8 111.9 99.1 112.5 102.0 115.2 103.1 115.6 104.4 115.2 107.2 112.5 107.9 112.1 108.7 111.9 109.8 112.3 112.6 114.7 113.9 115.3 115.1 115.1 117.5 113.6 118.7 113.2 120.0 113.3 122.4 114.3 123.6 114.5 124.8 114.2 127.2 112.9 128.3 112.7 129.7 113.3 132.5 115.4 133.8 115.7 134.9 115.2 137.7 112.4 140.3 110.7 142.1 108.5 142.9 108.0 143.2 108.1 143.8 108.6 145.6 112.2 146.7 113.4 147.5 113.5 150.1 113.1 154.1 114.3 158.6 113.9 162.4 114.7 164.3 114.8 172.2 114.5 190.9 113.0 200.1 112.7 209.6 113.0 226.6 114.3 233.8 114.7 241.7 114.7 250.2 114.3"/>
<path stroke="#EDB120" d="M28.5 64.7L29.9 76.3 31.6 87.1 33.8 96.9 35.9 103.8 37.0 106.1 38.2 107.6 39.2 108.2 41.4 108.9 42.6 109.5 43.9 110.7 46.8 114.1 47.7 114.8 48.5 115.1 49.9 114.8 52.9 112.7 54.4 112.2 55.8 112.6 58.8 114.7 60.1 115.2 61.4 115.1 64.0 113.9 65.3 113.6 66.6 113.6 69.0 114.2 69.9 114.1 70.8 113.3 71.5 111.9 73.9 103.9 74.5 102.7 74.9 102.4 75.2 102.6 75.8 103.5 78.0 110.7 79.3 113.5 80.2 114.5 81.3 115.1 82.8 115.4 84.1 115.2 85.6 114.4 89.1 111.5 90.0 111.0 92.1 110.5 93.9 109.8 95.7 108.7 97.2 107.4 98.5 105.6 99.6 103.5 103.7 93.8 104.6 92.4 105.5 91.5 106.6 91.0 107.9 91.3 109.1 92.1 112.6 95.4 113.7 95.9 114.6 95.8 115.5 95.4 116.6 94.3 120.5 88.6 121.2 87.9 122.0 87.7 122.9 87.9 123.8 88.8 127.3 94.9 128.1 95.8 128.8 96.4 129.6 96.6 130.3 96.3 133.4 92.7 134.4 92.1 135.1 92.1 135.8 92.4 136.6 93.2 139.9 98.6 141.6 100.4 143.2 101.1 148.6 101.7 151.0 101.6 154.5 100.8 156.2 100.6 157.6 100.8 161.2 101.8 163.0 102.1 177.4 102.3 191.1 102.0 227.1 100.4 238.7 100.2 250.2 100.3"/>
<path stroke="#D95319" d="M28.5 44.1L29.9 63.5 31.4 78.7 33.0 90.7 34.9 99.4 36.4 103.9 37.3 105.4 38.3 106.7 39.6 107.8 45.1 111.8 47.6 113.1 49.5 113.4 56.8 113.4 62.7 112.3 64.0 112.6 66.6 113.7 67.9 114.0 68.8 113.9 71.2 112.6 72.1 112.5 73.4 113.0 76.0 115.8 76.5 116.1 77.1 116.1 77.6 115.9 78.4 115.1 81.3 110.3 82.1 109.7 82.6 109.6 83.2 109.8 83.9 110.5 86.7 115.5 87.4 116.4 88.2 116.8 88.7 116.8 89.5 116.3 92.6 111.6 93.5 110.8 94.3 110.5 94.8 110.6 95.6 111.1 98.3 114.0 99.3 114.6 100.0 114.9 101.7 114.7 109.6 111.6 110.9 111.4 112.4 111.9 115.3 114.6 116.6 115.1 117.4 114.9 118.1 114.2 121.4 108.9 122.2 108.2 122.9 108.0 123.6 108.3 124.4 109.1 127.3 113.9 128.1 114.5 128.6 114.5 129.2 114.3 129.9 113.4 132.9 108.1 135.5 105.4 137.1 102.1 137.5 101.6 137.9 101.4 138.2 101.6 138.8 102.8 140.8 110.1 141.4 111.0 141.9 111.4 142.7 111.1 145.1 109.5 146.6 109.2 151.2 109.9 155.1 111.1 156.5 111.3 157.8 111.1 160.4 110.2 161.7 110.0 163.0 110.1 166.1 111.0 168.0 111.2 188.9 109.7 197.4 109.5 204.0 109.9 218.4 111.1 225.8 111.4 232.8 111.1 250.2 109.8"/>
<path stroke="#0072BD" d="M28.5 127.6L30.3 122.4 31.3 120.8 32.3 119.5 33.8 118.5 37.0 117.5 38.6 116.7 40.2 115.4 44.1 111.9 45.3 111.1 46.4 110.6 47.7 110.5 49.0 110.7 54.7 113.8 56.2 114.2 57.5 114.3 59.9 113.8 64.5 111.7 66.0 111.3 67.5 111.2 71.2 111.7 72.5 111.5 75.8 110.1 76.9 110.0 79.3 110.2 80.4 110.1 81.7 109.6 84.8 107.7 86.5 107.2 87.6 107.2 91.3 108.0 92.6 107.8 95.6 107.0 97.0 106.8 102.4 107.7 108.3 106.9 114.2 107.7 120.5 106.9 126.0 107.7 131.6 106.8 132.9 106.9 135.7 107.6 136.8 107.7 138.2 107.1 139.5 105.7 140.8 103.4 143.6 97.3 144.5 96.1 145.3 95.8 146.2 96.4 147.1 98.0 147.8 100.4 149.3 106.6 149.9 107.9 150.3 108.3 150.8 108.0 152.1 106.5 152.8 106.3 156.3 107.3 158.0 107.6 163.6 106.9 217.1 107.5 250.2 107.2"/>
<path stroke="#A2142F" d="M28.5 59.6L30.5 72.9 32.7 84.3 35.0 92.8 37.3 98.9 39.1 102.3 41.2 104.7 42.6 105.9 47.0 108.7 51.8 113.2 52.7 113.8 53.6 114.1 55.3 113.9 59.0 111.7 60.6 111.4 62.3 112.1 65.6 114.8 66.6 115.2 67.3 115.3 68.8 114.7 71.9 112.2 72.7 111.9 73.4 111.9 74.9 112.6 78.0 115.7 78.9 116.1 79.7 116.2 80.4 116.0 81.3 115.5 84.8 112.2 85.8 111.7 86.5 111.6 88.0 112.1 91.5 115.0 93.2 115.7 94.1 115.6 95.0 115.4 98.9 113.4 100.9 113.0 107.8 113.6 112.6 115.2 114.2 115.3 115.1 115.0 116.3 114.4 119.6 111.6 120.7 110.1 122.4 106.6 122.9 106.1 123.3 106.2 123.8 107.0 125.9 112.5 126.4 113.2 127.2 113.2 127.7 112.6 128.4 111.3 131.6 103.1 132.3 102.1 133.1 101.7 133.6 101.8 134.4 102.5 136.6 105.5 137.7 106.7 138.8 107.4 140.1 107.7 141.9 107.4 145.6 105.5 147.8 104.7 152.1 103.4 154.3 103.0 156.0 103.2 159.3 104.0 160.8 104.2 166.7 103.8 173.0 104.2 182.0 104.5 192.4 104.3 212.3 103.1 221.6 102.8 231.5 103.0 250.2 104.0"/>
<path stroke="#4DBEEE" d="M28.5 42.8L30.5 60.2 32.7 74.3 34.7 84.1 35.8 88.0 37.1 91.6 41.2 100.3 42.7 103.0 44.0 104.7 45.9 106.1 49.1 107.0 50.4 107.6 51.8 108.8 54.7 112.0 56.2 112.9 57.1 112.9 58.1 112.5 61.4 109.6 62.9 109.0 63.6 109.1 64.3 109.5 67.9 112.5 69.5 113.0 76.0 112.2 79.3 111.1 80.6 110.9 82.1 111.1 85.2 112.7 86.7 113.1 88.2 112.8 91.1 111.4 92.6 111.1 93.9 111.2 97.2 112.3 99.1 112.6 104.8 111.8 114.8 111.4 116.1 111.0 117.4 110.3 121.2 106.8 122.7 105.8 124.0 105.3 127.0 104.8 128.4 104.1 129.9 102.9 132.9 99.7 134.5 98.6 136.2 98.3 139.0 98.6 140.5 98.6 146.0 97.3 156.3 97.8 163.6 97.4 208.4 98.4 250.2 98.6"/>
<path stroke="#77AC30" d="M28.5 103.1L31.4 108.4 32.6 110.0 33.7 111.1 35.3 111.9 38.3 112.0 39.6 112.3 40.8 113.0 43.4 114.9 44.6 115.4 45.4 115.5 46.3 115.4 49.7 113.5 51.2 113.2 52.7 113.6 56.0 115.8 57.0 116.1 57.7 116.1 59.2 115.5 61.9 113.6 63.2 113.3 64.5 113.7 66.9 115.7 68.0 116.0 68.6 115.8 69.3 115.2 71.7 112.4 72.3 112.1 72.8 112.0 73.4 112.2 74.1 112.9 76.9 116.9 78.0 117.6 78.6 117.5 79.3 117.1 81.7 114.8 83.0 114.0 84.1 113.8 89.1 113.2 90.2 113.4 91.1 114.0 94.6 117.8 95.4 118.1 96.1 117.9 97.4 116.5 98.9 113.5 100.0 110.5 101.7 104.5 102.0 103.7 102.4 103.3 102.8 103.6 103.3 105.3 105.5 115.7 106.5 117.8 107.0 118.4 107.6 118.7 108.3 118.4 109.1 117.8 112.2 113.4 112.9 112.8 113.7 112.6 114.8 112.9 117.9 114.5 121.2 115.4 124.2 117.0 124.9 117.2 125.7 117.1 126.4 116.7 127.2 115.9 129.9 111.9 130.7 111.2 131.2 111.0 132.0 111.3 132.7 112.1 135.8 118.0 136.6 118.8 137.3 119.1 137.9 119.0 138.6 118.3 141.6 113.1 142.5 112.0 143.2 111.7 143.8 111.8 144.5 112.2 147.7 115.4 148.6 115.9 149.5 116.0 155.4 115.5 158.9 114.4 160.2 114.3 161.7 114.5 164.5 115.5 166.0 115.7 170.6 115.3 192.7 114.7 202.5 114.9 220.6 116.1 228.8 116.4 238.0 116.4 250.2 116.0"/>
<path stroke="#7E2F8E" d="M28.5 125.9L30.3 120.6 31.2 118.9 32.3 117.5 33.6 116.7 37.5 115.0 41.9 112.2 43.2 111.7 44.5 111.4 46.3 111.5 50.1 112.5 52.0 112.7 53.8 112.6 57.5 111.9 59.4 111.8 64.0 113.0 65.3 113.1 66.7 112.9 69.7 111.6 71.2 111.3 72.3 111.4 74.9 112.4 76.2 112.7 77.5 112.5 80.4 111.5 81.7 111.4 82.8 111.6 85.6 112.7 87.1 112.9 92.1 111.8 93.3 111.9 97.4 112.5 102.6 111.7 104.1 111.9 107.0 112.9 108.3 113.0 109.8 112.8 112.7 111.5 114.0 111.1 115.5 111.2 118.7 112.0 120.1 112.1 121.6 111.7 125.5 109.9 126.8 109.7 130.9 109.5 135.5 108.0 137.1 107.9 140.3 108.6 141.6 108.6 143.0 108.3 146.0 107.2 147.3 107.0 148.6 107.1 152.8 108.2 158.6 107.8 164.1 108.4 170.2 108.6 176.3 108.4 190.7 107.1 196.8 106.9 205.1 107.1 221.6 108.5 229.0 108.9 237.3 108.6 250.2 107.5"/>
<path stroke="#EDB120" d="M28.5 128.1L30.3 125.0 32.1 122.3 34.0 120.1 35.7 118.5 36.9 117.8 38.1 117.4 42.0 117.3 43.5 116.9 44.9 116.1 47.8 113.8 48.9 113.2 49.9 113.1 51.0 113.4 54.4 115.9 55.8 116.5 56.6 116.5 57.5 116.1 61.2 112.8 62.9 112.2 63.8 112.2 64.7 112.6 68.0 115.1 68.8 115.4 69.7 115.2 71.4 114.2 74.9 111.2 76.2 109.4 78.8 104.6 79.5 103.7 80.2 103.3 80.8 103.4 81.5 104.1 84.3 108.3 85.0 108.8 85.6 108.7 86.1 108.2 86.9 107.0 89.7 100.7 90.4 99.8 90.9 99.6 91.5 99.7 92.2 100.4 95.2 105.2 95.9 105.8 96.7 106.0 97.8 105.7 100.4 104.2 103.5 103.2 106.5 101.2 107.2 101.1 107.8 101.2 109.1 102.4 111.8 107.1 112.4 107.6 112.9 107.8 113.5 107.6 114.2 106.8 117.0 100.7 117.7 99.6 118.3 99.2 118.8 99.3 119.6 99.9 122.5 105.6 123.3 106.5 124.0 106.9 124.6 106.9 125.3 106.4 127.7 103.7 129.0 102.8 130.1 102.5 134.9 102.2 135.8 102.7 136.8 103.9 139.7 110.5 140.3 111.3 140.8 111.6 141.4 111.4 142.1 110.2 145.1 101.6 145.8 100.5 146.4 100.2 146.9 100.5 147.5 101.1 150.3 105.7 151.0 106.3 151.5 106.4 152.7 105.9 155.4 103.3 156.9 102.8 160.8 103.4 164.7 103.4 173.2 102.5 182.8 102.3 189.8 102.8 206.2 104.6 215.1 104.9 224.0 104.5 242.3 102.5 250.2 102.2"/>
<path stroke="#D95319" d="M28.5 78.1L30.3 86.7 32.6 94.5 36.6 105.5 38.1 108.8 39.3 110.9 40.5 112.2 41.7 112.7 42.8 112.6 45.6 111.6 46.4 111.6 47.3 111.8 48.7 112.7 52.7 116.5 54.2 117.3 55.8 117.7 59.2 118.0 61.0 117.9 62.5 117.3 64.9 115.5 66.0 115.1 67.1 115.3 69.3 116.7 70.4 117.0 71.5 116.8 73.8 115.5 74.7 115.3 75.4 115.6 76.2 116.2 78.9 119.5 79.7 119.9 80.4 119.9 81.2 119.5 82.1 118.4 86.5 111.4 87.4 110.4 88.4 109.7 89.3 109.5 90.0 109.8 90.9 110.6 93.2 113.0 93.9 113.4 94.5 113.3 95.2 112.8 95.9 111.8 98.9 106.6 99.8 105.7 100.6 105.5 101.1 105.7 101.8 106.4 104.8 110.5 105.5 111.1 106.3 111.2 107.0 110.8 107.8 109.9 110.7 104.6 111.6 103.3 112.4 102.7 113.5 102.3 115.7 102.6 116.8 102.5 120.1 101.2 121.6 100.9 123.1 101.1 124.6 101.9 125.9 103.2 128.6 106.6 130.1 107.8 130.9 107.9 131.8 107.7 132.7 107.1 135.8 104.5 136.9 104.1 137.9 104.2 139.0 104.7 140.3 106.0 143.8 111.5 145.1 112.8 145.8 113.0 146.6 112.7 149.3 110.1 150.1 109.7 150.6 109.7 151.9 110.5 154.7 113.7 156.0 114.3 156.7 114.2 157.5 113.9 160.4 111.9 161.9 111.5 163.0 111.6 167.1 112.6 184.2 113.4 194.2 113.1 213.6 111.4 222.5 111.0 231.9 111.2 250.2 112.5"/>
<path stroke="#0072BD" d="M28.5 69.0L30.0 82.1 31.6 91.2 33.3 96.5 38.5 109.1 39.8 111.1 40.4 111.7 41.1 111.9 42.2 111.7 44.9 109.9 45.6 109.7 46.3 109.9 47.5 110.8 50.0 113.6 51.2 114.3 52.0 114.3 52.7 114.0 56.0 110.2 56.8 109.7 57.5 109.6 58.8 110.1 61.8 113.6 62.5 114.2 63.2 114.4 64.3 114.2 66.6 112.4 67.7 111.9 68.8 111.8 71.0 112.7 72.1 112.9 73.2 112.5 75.6 111.0 76.5 110.8 77.8 111.3 81.0 113.9 81.9 114.2 82.8 114.0 84.1 113.1 87.8 109.4 88.7 108.7 89.8 108.5 92.1 109.3 92.6 109.1 93.0 108.7 93.5 107.7 94.3 105.5 96.9 94.6 97.6 92.9 98.2 92.5 98.7 93.0 99.3 94.1 102.0 102.7 102.8 104.3 103.5 105.2 104.2 105.2 105.0 104.4 107.6 98.6 108.3 97.4 108.9 96.9 109.6 97.0 110.3 97.7 112.9 102.9 113.7 103.9 114.2 104.3 114.8 104.2 115.5 103.6 117.9 99.5 118.5 99.1 119.0 99.1 119.6 99.5 120.3 100.6 122.5 105.6 123.8 107.8 128.3 112.3 129.0 112.9 129.7 113.1 131.0 112.9 133.8 111.8 135.3 111.5 136.6 111.7 139.3 112.5 140.6 112.6 145.8 111.4 151.2 112.2 156.3 111.3 161.5 111.6 167.2 110.9 172.6 110.7 179.6 111.0 195.3 112.0 203.1 112.2 211.4 111.8 226.9 110.4 233.8 110.0 241.5 109.9 250.2 110.4"/>
<path stroke="#A2142F" d="M28.5 56.1L30.5 71.8 32.7 84.9 35.0 94.4 36.1 97.8 37.4 100.9 38.8 103.6 40.3 105.9 42.1 108.1 43.7 109.7 45.9 111.0 49.5 111.6 50.9 112.1 52.3 113.1 55.3 115.6 56.8 116.4 57.7 116.5 58.8 116.3 62.5 114.0 63.8 113.6 64.9 113.8 67.1 115.2 68.2 115.4 69.1 114.9 71.2 112.9 72.1 112.6 72.7 112.8 73.2 113.3 75.4 116.9 76.5 117.9 77.1 117.9 77.6 117.6 80.0 114.5 80.6 114.1 81.2 114.0 82.3 114.5 84.5 117.2 85.0 117.5 85.6 117.5 86.3 117.0 87.1 115.9 89.8 109.2 90.6 108.2 91.1 107.9 91.7 108.2 92.2 108.9 94.6 113.6 95.2 114.1 95.6 114.0 96.3 113.0 97.0 110.8 100.0 97.7 100.7 96.0 101.1 95.6 101.5 95.5 102.0 95.9 102.8 97.3 105.5 105.4 106.3 106.6 106.8 107.0 107.4 107.0 108.1 106.4 110.9 102.5 111.6 102.0 112.4 101.9 115.1 102.3 117.9 101.6 118.8 101.7 120.0 102.4 122.5 105.3 123.3 105.6 123.8 105.5 124.9 104.5 127.3 100.3 127.9 99.8 128.4 99.7 129.0 100.0 129.7 101.0 132.3 107.7 133.1 108.9 133.6 109.2 134.2 108.9 134.9 107.6 137.7 98.4 138.4 96.8 139.0 96.6 139.5 97.2 140.3 99.3 142.9 111.6 143.6 114.2 144.2 115.4 144.7 116.0 145.4 115.8 147.7 112.6 148.2 112.1 148.8 112.0 149.3 112.3 149.9 112.9 152.7 117.0 153.4 117.6 153.9 117.8 155.1 117.6 157.1 116.3 158.0 115.9 159.1 115.9 161.3 116.6 162.4 116.7 166.1 115.7 167.6 115.5 178.7 115.6 186.3 115.8 212.7 117.7 223.4 118.2 235.2 118.2 250.2 117.5"/>
<path stroke="#4DBEEE" d="M28.5 113.6L29.4 114.0 30.3 114.0 33.4 113.3 34.7 113.3 35.9 113.6 38.6 114.9 40.0 115.2 41.2 115.0 44.1 113.9 45.5 113.8 46.7 114.0 49.3 115.0 50.6 115.1 51.8 115.0 55.7 113.7 57.1 113.8 60.1 114.8 61.4 115.0 62.5 114.8 65.5 113.9 69.1 114.4 71.5 113.6 72.3 113.5 73.4 114.0 75.8 116.8 76.4 117.2 76.9 117.3 77.5 117.1 78.2 116.3 80.8 112.2 81.3 111.7 81.9 111.5 82.4 111.7 83.2 112.3 85.6 115.5 86.3 116.0 86.9 116.1 87.8 115.7 90.4 113.2 92.4 112.4 93.2 111.9 94.1 110.4 95.7 106.8 96.3 106.1 96.9 105.7 97.4 105.7 98.0 106.0 100.0 107.7 101.1 109.0 103.5 112.5 104.2 113.2 104.8 113.2 105.4 113.0 105.9 112.4 108.7 107.1 109.4 106.2 110.0 105.8 110.5 105.8 111.1 106.0 113.3 108.1 114.4 108.5 115.5 108.1 117.7 106.1 118.8 105.8 119.8 106.3 122.2 108.7 122.9 108.9 123.5 108.8 124.8 107.5 128.1 101.9 129.0 100.9 129.7 100.5 130.3 100.7 130.9 101.4 133.1 106.8 133.6 107.7 134.2 108.0 135.1 107.5 137.1 105.1 138.1 104.7 139.0 105.1 141.0 107.1 142.1 107.7 143.2 107.4 145.6 105.7 146.7 105.6 147.7 106.2 149.7 108.2 150.8 108.7 151.4 108.6 152.1 108.1 154.7 105.5 156.0 105.0 156.9 105.2 159.1 106.6 160.2 107.0 161.5 106.8 164.5 105.7 166.5 105.6 171.9 105.9 184.2 107.7 190.5 108.2 194.4 108.3 198.5 108.0 214.2 106.1 221.6 105.7 228.0 106.0 243.0 108.1 250.2 108.6"/>
<path stroke="#77AC30" d="M28.5 74.5L29.5 84.5 30.7 93.0 32.0 99.1 33.5 103.3 35.0 105.7 37.1 107.5 42.2 110.5 43.8 111.1 45.7 111.5 52.0 112.4 53.8 112.4 55.8 111.9 59.7 110.1 61.4 109.8 62.9 110.1 65.6 111.5 66.9 111.9 68.2 112.0 70.1 111.7 71.2 111.2 71.9 110.4 72.7 108.6 73.8 104.8 74.1 104.0 74.5 103.8 75.1 104.6 76.9 110.9 77.6 111.9 78.4 112.1 79.5 111.8 83.0 109.9 84.8 109.4 86.7 109.3 92.2 109.6 97.0 109.4 100.2 108.9 105.4 107.4 106.6 106.9 107.6 106.3 110.3 102.9 110.9 102.4 111.5 102.2 112.0 102.3 112.6 102.8 115.0 106.8 116.3 108.2 116.8 108.3 117.5 108.3 120.7 106.9 122.4 106.8 124.0 107.5 127.7 110.0 129.4 110.5 131.0 110.1 135.1 107.3 136.2 106.8 137.1 106.7 139.0 107.2 142.9 109.6 144.7 110.0 146.4 109.7 150.3 108.1 152.1 107.8 153.8 107.9 157.8 108.8 160.2 109.0 180.2 107.7 189.4 107.4 199.8 107.7 219.5 108.9 228.4 109.2 238.4 109.1 250.2 108.4"/>
<path stroke="#7E2F8E" d="M28.5 107.6L30.6 110.6 31.5 111.6 32.4 112.1 33.1 112.3 34.0 112.3 37.1 111.0 38.6 111.0 40.0 111.7 43.1 114.4 44.5 114.9 45.2 114.9 46.1 114.5 49.4 111.5 50.9 110.8 51.6 110.9 52.5 111.3 55.8 114.3 56.8 114.8 57.5 114.9 59.0 114.5 62.1 112.1 63.6 111.4 65.1 111.5 69.0 113.6 71.0 114.1 73.0 113.7 76.5 112.0 76.9 112.2 77.6 113.4 77.8 113.3 78.9 111.4 80.4 111.5 81.5 111.9 81.9 112.9 83.0 121.3 83.4 119.5 83.9 114.3 84.3 112.7 84.7 112.3 86.7 111.6 87.1 111.7 87.4 113.0 88.4 119.9 88.5 119.5 89.3 112.3 89.7 110.3 90.0 109.6 91.3 109.1 92.2 109.0 92.6 109.5 93.5 117.1 93.7 118.2 93.9 118.2 95.0 109.6 95.2 109.2 95.6 109.0 97.8 109.1 98.2 110.0 98.9 116.2 99.1 117.4 99.3 117.6 100.2 109.5 100.6 107.8 101.3 107.1 103.1 106.6 103.5 107.3 103.7 108.3 104.6 115.4 105.0 113.5 105.5 107.7 106.1 105.1 108.5 101.5 108.7 101.4 108.9 101.6 110.0 108.6 110.3 107.1 111.1 99.8 111.5 98.5 111.8 98.3 112.6 98.4 113.3 99.0 113.9 99.7 114.2 100.8 115.1 109.8 115.5 111.9 116.6 105.3 116.8 105.1 117.0 105.2 118.1 106.3 119.4 107.0 120.0 109.0 120.5 114.3 120.9 116.3 121.2 114.3 121.8 108.8 122.2 107.1 122.4 106.8 122.7 106.7 124.6 107.1 124.9 107.5 125.3 109.0 126.2 117.0 126.4 116.9 126.6 115.7 127.3 109.3 127.7 108.2 130.1 108.1 130.5 108.4 130.9 110.2 131.4 115.1 131.6 116.0 131.8 115.9 132.9 105.3 133.3 103.8 134.4 101.0 135.3 99.1 135.7 98.6 135.8 98.6 136.2 100.0 137.1 107.1 138.1 100.7 138.2 100.0 138.4 99.7 138.6 99.8 141.2 105.4 141.6 107.5 142.5 116.3 142.7 116.2 142.9 115.2 143.6 109.2 143.8 108.7 144.2 108.6 146.2 110.4 146.7 111.4 147.7 119.1 147.8 120.0 148.0 120.1 149.0 113.1 149.3 112.0 151.7 110.5 152.1 110.5 152.5 111.2 153.2 113.8 153.6 113.1 154.5 108.8 155.1 108.2 156.5 107.8 157.5 107.9 158.6 108.6 159.9 108.1 162.4 108.3 167.6 108.4 185.2 109.2 200.3 109.5 216.8 109.4 250.2 108.4"/>
<path stroke="#EDB120" d="M28.5 64.0L29.6 77.2 30.8 88.0 32.1 96.4 33.6 103.1 35.7 109.7 38.4 115.3 39.7 117.3 41.0 118.9 42.2 119.8 43.4 120.2 44.9 120.1 48.5 118.8 50.3 118.6 52.1 119.1 56.6 121.2 57.9 121.5 59.2 121.6 61.8 121.0 67.3 119.1 71.4 118.7 72.8 118.1 74.1 116.9 75.6 115.0 81.5 103.6 83.4 98.9 86.5 88.9 87.3 87.0 88.0 85.8 88.9 85.2 90.0 85.5 91.1 86.6 94.1 90.7 95.0 91.4 95.9 91.6 96.7 91.3 97.6 90.5 101.3 84.6 102.2 83.6 103.1 83.1 104.1 83.3 105.0 84.1 106.1 85.7 108.9 90.6 109.8 91.6 110.7 92.0 111.6 91.8 112.6 90.8 116.3 83.9 117.2 82.9 117.9 82.5 118.7 82.7 119.6 83.6 123.3 90.7 124.2 91.8 124.9 92.2 125.7 92.1 126.6 91.3 130.3 84.7 131.2 83.7 132.0 83.3 132.7 83.3 133.6 84.0 137.3 89.1 138.2 90.0 139.2 90.5 139.9 90.6 140.8 90.3 141.9 89.6 144.3 87.3 145.3 87.0 146.0 87.1 146.7 87.5 147.7 88.5 151.4 94.4 153.4 96.8 156.2 98.9 157.6 99.5 159.1 99.8 163.7 99.7 167.8 99.9 170.4 99.9 188.1 97.8 196.8 97.3 204.9 97.6 221.9 99.2 230.2 99.3 237.8 98.8 250.2 97.3"/>
<path stroke="#D95319" d="M28.5 122.8L30.3 119.4 32.2 116.5 33.9 114.5 35.3 113.2 36.4 112.7 37.6 112.4 41.5 112.9 43.2 112.7 44.9 112.0 48.1 109.8 49.4 109.2 50.4 109.2 51.4 109.4 55.3 111.7 57.0 112.1 57.9 111.9 58.8 111.4 62.3 108.7 63.6 108.4 64.7 108.7 67.1 110.6 68.2 111.1 69.1 111.1 71.7 110.8 72.7 111.0 75.1 112.0 76.4 111.8 77.3 111.1 80.0 108.1 81.2 107.4 83.6 106.5 85.0 105.4 90.2 100.6 93.7 96.2 96.1 93.9 97.4 91.7 99.3 85.9 100.0 84.7 100.4 84.8 100.9 86.0 103.1 95.6 103.7 97.2 104.2 98.1 104.8 98.3 105.5 98.0 108.7 93.9 109.4 93.4 110.2 93.4 110.9 93.9 111.6 94.9 114.6 100.4 115.1 101.0 115.7 101.3 116.4 101.0 117.2 100.0 120.1 92.9 120.9 91.6 121.6 91.1 122.2 91.3 122.9 92.2 126.0 100.1 126.8 101.2 127.5 101.6 128.4 101.0 130.9 97.3 131.6 96.6 132.1 96.3 133.3 96.4 135.7 97.6 139.2 99.1 140.1 99.3 141.2 98.7 143.4 96.3 144.3 95.7 144.9 95.6 145.6 95.9 148.0 98.0 149.3 98.5 150.6 98.0 153.4 95.5 154.7 95.0 156.0 95.4 158.6 96.9 159.9 97.3 164.7 96.3 170.0 96.7 250.2 96.1"/>
<path stroke="#0072BD" d="M28.5 83.0L30.1 89.7 31.8 95.8 33.5 100.3 35.2 103.5 36.2 104.8 37.4 105.8 41.2 107.8 45.6 110.9 47.5 111.6 48.8 111.6 52.0 110.9 53.4 110.9 54.9 111.2 58.1 112.2 59.7 112.4 61.2 112.1 64.5 111.1 66.0 111.0 67.7 111.4 71.0 113.2 72.5 113.5 74.1 113.1 77.8 110.8 79.5 110.4 81.3 110.9 85.6 112.9 86.9 113.1 88.2 112.9 91.5 111.6 95.0 108.0 95.9 107.6 97.6 107.5 98.5 106.9 99.8 104.4 102.2 97.4 103.1 96.1 103.7 96.0 104.2 96.6 106.8 102.0 107.6 102.9 108.1 103.1 108.7 102.8 109.4 101.7 112.2 95.4 112.9 94.7 113.5 94.7 114.0 95.3 114.8 96.7 117.2 103.3 117.9 104.5 118.5 104.8 119.0 104.5 119.6 103.7 122.5 95.3 123.3 94.1 123.8 93.8 124.4 94.0 125.1 95.1 127.5 101.6 128.6 103.6 129.2 103.8 129.9 103.4 132.3 99.1 133.1 98.5 133.6 98.5 134.2 98.9 134.7 99.8 136.9 104.7 138.1 106.4 140.8 108.7 143.6 112.0 144.7 112.7 145.8 113.1 147.5 112.8 151.2 110.3 152.1 109.9 153.0 109.8 154.7 110.2 158.2 112.0 159.9 112.3 165.6 111.3 170.2 111.3 179.1 110.6 185.4 110.4 194.6 110.6 212.7 112.2 221.2 112.6 229.3 112.4 250.2 111.0"/>
<path stroke="#7E2F8E" d="M28.5 135.2L29.7 159.7 30.3 165.6 30.7 167.2 31.0 166.7 31.4 164.5 32.7 150.9 34.7 136.9 35.8 130.2 36.9 125.5 38.3 120.9 39.4 118.4 42.2 115.3 43.4 114.5 44.6 114.0 61.8 113.0 84.1 112.5 250.2 112.1"/>
<path stroke="#4DBEEE" d="M28.5 149.4L29.1 154.1 29.8 156.7 30.5 158.1 31.2 158.3 31.5 158.1 32.0 155.2 33.4 142.9 34.6 135.9 36.0 129.2 37.8 123.0 39.3 119.6 41.5 117.1 43.9 115.4 46.7 114.7 51.4 114.0 61.9 113.2 81.5 111.1 93.3 110.4 165.0 109.8 250.2 109.6"/>
<path stroke="#A2142F" d="M28.5 167.2L29.2 194.2 29.6 201.4 29.9 202.7 30.4 198.1 31.7 175.6 33.9 146.0 34.6 138.8 36.1 129.6 36.8 126.4 37.6 123.8 39.1 120.4 40.5 118.0 41.4 117.0 42.8 116.2 45.0 115.2 47.3 114.5 50.2 113.9 56.0 113.5 94.1 111.8 166.9 111.2 250.2 111.1"/>
<path stroke="#7E2F8E" d="M28.5 234.7L29.2 175.8 30.2 140.3 30.7 129.6 31.5 121.6 32.3 117.3 32.8 116.0 33.5 115.4 34.3 115.2 36.7 116.1 38.1 116.1 39.5 115.5 42.5 113.5 44.1 113.1 45.5 113.4 48.9 115.6 50.6 116.0 52.0 115.7 55.5 113.7 57.1 113.3 58.8 113.7 62.1 115.5 63.6 115.8 65.1 115.5 68.2 114.0 69.9 113.6 71.4 113.8 74.7 115.2 76.4 115.5 77.6 115.3 81.0 114.2 82.6 113.9 83.9 114.1 87.1 114.9 88.7 115.1 94.3 114.2 100.4 115.0 106.1 114.2 110.7 115.0 112.2 115.1 113.7 114.9 116.8 114.1 118.3 114.0 119.8 114.2 123.1 115.2 124.6 115.4 126.0 115.1 129.4 113.9 130.9 113.7 132.5 114.0 135.7 115.4 137.1 115.6 138.6 115.4 141.9 113.8 143.6 113.5 145.3 113.9 148.6 115.5 150.1 115.7 151.7 115.4 155.1 113.7 156.5 113.5 158.0 113.8 161.2 115.4 162.8 115.8 164.3 115.5 167.6 113.9 169.3 113.5 170.8 113.8 173.9 115.3 175.6 115.7 177.0 115.4 180.4 114.0 182.0 113.6 183.5 113.9 186.6 115.2 188.3 115.5 189.8 115.3 192.9 114.1 194.4 113.8 195.9 114.0 199.0 115.1 200.5 115.4 202.0 115.2 205.3 114.1 207.0 113.9 208.4 114.1 211.8 115.2 213.4 115.3 214.7 115.1 217.7 114.1 219.2 113.9 220.5 114.0 223.8 115.2 225.3 115.4 226.7 115.2 229.9 114.0 231.5 113.7 233.0 114.0 236.2 115.2 237.8 115.5 239.3 115.3 242.6 113.9 244.1 113.6 245.8 113.9 248.7 115.3 250.2 115.6"/>
<path stroke="#7E2F8E" d="M28.5 -14.0L29.4 49.7 30.0 71.4 30.7 89.3 31.5 99.7 32.5 107.2 33.0 109.4 33.7 111.1 34.5 112.4 35.4 113.1 36.7 113.6 38.3 113.6 43.6 112.2 45.9 112.0 48.0 112.5 52.3 114.4 54.4 114.6 56.4 114.2 60.8 112.1 62.9 111.7 64.5 112.0 68.8 113.8 70.8 114.3 72.7 114.2 77.1 112.9 79.5 112.6 85.2 113.1 90.9 113.1 97.6 114.0 99.6 113.7 104.1 112.2 106.1 112.0 108.3 112.4 112.7 114.3 114.8 114.6 116.6 114.2 120.9 112.5 123.1 112.0 125.1 112.2 129.7 113.6 132.1 114.0 134.5 113.9 141.8 112.8 145.6 112.5 148.4 112.7 153.4 113.9 155.6 114.1 158.0 113.8 162.6 112.4 164.7 112.2 166.5 112.4 170.8 113.6 173.0 114.0 175.2 113.9 181.5 112.9 187.9 112.7 191.3 113.0 196.1 114.0 198.1 114.2 200.3 113.8 204.8 112.1 206.8 111.8 208.8 112.1 213.2 114.3 215.5 114.7 217.3 114.4 221.6 112.4 223.8 111.9 225.6 112.1 230.1 113.6 232.3 114.0 233.9 113.9 239.1 113.1 244.8 113.1 250.2 112.7"/>
<path stroke="#D95319" d="M28.5 39.3L30.2 58.3 32.1 74.1 34.7 88.8 36.1 94.9 37.5 100.0 39.3 104.8 40.2 106.4 41.2 107.6 42.6 108.6 46.3 110.0 49.8 112.3 51.2 112.9 52.9 113.2 56.2 112.7 57.7 112.7 59.2 113.3 62.1 114.9 63.8 115.2 65.3 114.9 68.6 112.9 70.3 112.5 71.7 112.7 75.2 114.5 76.9 114.9 78.2 114.6 81.7 112.6 85.8 112.1 125.3 110.5 138.6 110.3 250.2 110.3"/>
<path stroke="#A2142F" d="M28.5 30.4L31.0 49.7 33.8 65.7 35.5 73.8 37.3 80.9 38.9 86.5 40.5 90.7 42.7 94.8 46.5 99.8 50.3 105.6 51.8 107.4 52.7 108.0 53.8 108.4 57.1 108.3 58.6 108.6 60.1 109.5 62.9 112.0 64.2 112.7 65.1 112.8 66.0 112.7 69.3 111.0 71.0 110.7 72.7 111.3 76.0 113.6 77.6 114.1 78.9 113.6 82.4 111.0 85.6 110.1 119.8 107.6 132.1 106.9 250.2 106.8"/>
<path stroke="#A2142F" d="M28.5 103.2L29.8 105.4 31.2 107.0 35.2 109.8 39.4 113.4 41.3 114.4 42.3 114.5 43.3 114.3 46.8 112.7 48.4 112.3 50.1 112.6 53.8 114.4 55.7 114.8 57.3 114.5 61.2 113.0 64.7 112.8 66.0 112.5 66.9 111.8 67.9 110.1 74.5 93.6 77.8 88.3 79.1 87.3 79.7 87.3 80.0 87.5 80.8 88.3 83.0 92.0 83.6 92.5 84.1 92.6 84.7 92.2 85.4 91.3 88.2 86.5 88.9 85.7 89.5 85.5 90.6 85.7 92.1 86.6 101.8 94.5 106.1 98.7 107.2 99.4 108.1 99.7 110.2 99.5 115.0 98.2 117.2 97.9 119.6 98.3 125.5 100.9 128.1 101.5 130.5 101.3 136.6 100.0 139.3 99.7 159.7 100.4 175.7 100.6 250.2 101.1"/>
<path stroke="#77AC30" d="M28.5 167.2L30.9 151.1 32.2 144.6 33.7 138.4 35.2 133.3 36.7 129.1 38.4 125.6 40.1 123.0 41.6 121.5 43.5 120.0 49.8 115.8 52.3 114.5 53.6 114.2 55.1 114.2 59.7 115.2 61.9 115.3 63.8 114.9 68.4 112.9 72.3 112.5 73.4 112.2 74.3 111.4 75.4 109.9 78.9 104.1 84.5 96.1 85.6 94.8 87.3 93.5 89.7 92.0 90.8 91.9 91.3 92.3 93.9 97.0 94.5 97.7 95.0 97.9 95.6 97.7 96.3 96.8 99.4 90.6 100.0 90.0 100.6 89.7 101.1 89.9 101.7 90.4 104.8 95.3 105.5 96.0 106.1 96.1 107.8 95.6 111.5 93.4 115.0 92.2 117.2 91.9 119.6 92.3 125.5 94.9 128.1 95.4 130.9 95.0 137.1 92.9 139.7 92.6 143.2 92.9 149.7 94.2 160.0 96.0 177.4 97.4 203.6 97.7 250.2 97.9"/>
<path stroke="#D95319" d="M28.5 89.0L30.7 97.5 31.9 100.8 33.1 103.3 34.2 105.0 35.5 106.4 41.5 111.6 44.2 113.1 47.5 113.6 51.2 113.6 56.0 112.6 57.9 112.6 59.5 113.2 63.0 115.2 64.9 115.6 66.4 115.2 67.3 114.5 73.6 106.7 75.4 103.0 82.3 87.5 83.6 85.0 84.8 83.1 86.7 80.7 88.4 79.0 91.1 77.0 92.8 76.3 93.7 76.3 94.5 76.7 97.8 80.8 100.7 83.3 103.0 84.9 105.2 86.1 110.7 88.2 115.3 91.4 118.5 93.3 120.1 94.1 121.4 94.4 124.4 94.1 128.4 93.2 134.5 90.6 139.3 89.6 141.2 89.0 143.8 87.5 158.2 77.7 159.7 77.0 162.3 76.7 169.3 76.3 174.8 76.4 185.9 77.9 200.1 79.5 207.5 80.8 210.5 81.2 232.5 81.2 250.2 80.9"/>
<path stroke="#D95319" d="M28.5 106.8L34.9 112.3 36.0 113.0 37.1 113.4 38.7 113.5 41.7 112.7 43.1 112.6 44.7 112.8 47.9 114.1 49.5 114.5 51.0 114.4 53.8 113.5 54.9 113.3 58.6 113.9 59.2 114.9 59.9 117.7 60.8 121.9 61.9 129.0 62.3 129.8 62.9 128.5 64.5 119.2 65.8 115.9 66.9 114.1 69.1 113.3 73.4 112.3 81.3 111.0 92.1 110.4 122.4 110.1 180.9 109.7 250.2 109.6"/>
<path stroke="#4DBEEE" d="M28.5 149.4L29.6 141.3 30.8 134.7 32.1 129.7 33.5 126.1 35.7 122.4 40.5 116.5 42.9 114.4 44.0 113.9 45.2 113.5 47.3 113.5 52.9 114.1 56.4 114.1 56.8 114.7 57.3 116.5 59.9 127.9 60.3 129.1 60.6 129.5 61.0 129.1 61.4 127.8 62.9 121.0 64.5 116.4 65.6 114.3 66.4 113.9 74.5 112.9 83.0 112.3 93.0 112.1 250.2 112.1"/>
<path stroke="#7E2F8E" d="M28.5 99.7L30.7 104.7 31.8 106.5 32.9 107.8 34.4 108.8 37.3 109.7 38.5 110.3 39.9 111.3 43.0 114.2 43.9 114.7 44.9 115.0 46.4 114.7 49.9 112.3 51.6 111.8 52.5 111.9 53.4 112.4 57.1 115.1 58.8 115.5 60.5 115.1 64.0 113.0 65.6 112.6 67.1 112.8 70.4 114.1 72.3 114.5 73.8 114.5 77.6 114.0 82.1 113.8 86.9 113.2 88.7 113.5 92.2 114.8 93.9 115.1 95.7 114.7 99.6 112.6 101.1 112.3 102.6 112.7 106.3 115.1 107.9 115.6 109.6 115.3 113.3 112.8 115.1 112.2 116.6 112.5 120.5 114.8 122.4 115.3 124.0 115.0 127.7 113.3 129.7 112.9 131.4 113.0 135.7 114.2 138.1 114.5 141.0 114.4 146.4 113.5 150.4 113.8 151.0 114.4 151.7 116.5 156.0 133.3 156.5 134.7 157.1 135.2 157.8 134.6 158.6 132.9 163.4 118.1 165.8 114.7 166.9 113.7 167.8 113.2 182.8 112.7 202.5 112.4 250.2 112.1"/>
<path stroke="#0072BD" d="M28.5 135.2L30.4 128.7 31.5 126.4 32.6 124.5 36.9 119.8 40.8 115.2 42.2 114.0 43.6 113.6 45.0 113.8 48.5 115.6 50.1 116.0 51.8 115.6 55.7 113.2 57.5 112.7 59.0 112.9 62.7 114.8 64.3 115.1 66.2 114.7 69.9 112.8 71.7 112.6 73.4 113.1 76.7 115.1 78.4 115.5 80.0 115.2 84.1 112.7 86.0 112.2 87.6 112.6 91.5 114.9 93.3 115.4 95.0 115.1 98.7 113.3 100.7 112.9 102.2 113.1 105.7 114.3 107.4 114.6 108.9 114.4 112.4 113.4 114.0 113.2 115.9 113.5 119.4 114.6 121.2 114.8 122.9 114.4 126.4 113.1 128.1 112.9 129.7 113.1 133.4 114.4 135.3 114.8 137.1 114.6 140.6 113.7 142.3 113.4 146.7 113.9 149.3 113.9 149.7 114.1 150.1 114.8 150.8 117.1 152.7 124.4 154.9 136.0 155.4 137.7 156.0 138.4 156.3 138.2 156.7 137.7 157.5 135.9 162.3 120.0 164.8 115.6 165.8 114.5 166.7 114.0 200.9 113.4 250.2 113.2"/>
<path stroke="#A2142F" d="M28.5 96.1L30.0 100.7 31.4 104.0 32.7 106.5 34.2 108.1 35.7 108.9 39.8 110.2 50.0 114.7 52.0 115.3 53.3 115.4 54.5 115.1 59.0 112.6 61.0 112.1 62.9 112.4 68.0 114.2 73.9 115.2 76.4 114.9 80.8 112.7 82.6 112.3 84.5 112.6 88.7 114.2 91.3 114.6 98.0 114.6 99.6 114.2 103.0 113.0 104.6 112.7 106.3 112.9 109.8 114.0 111.6 114.3 116.1 114.2 120.3 114.5 124.4 113.8 126.2 113.8 126.8 114.5 127.5 116.3 129.6 123.5 132.0 138.7 132.5 141.2 133.1 142.3 133.4 142.2 134.0 141.4 137.9 131.8 139.0 130.0 139.3 129.9 139.9 130.2 142.3 133.3 142.9 133.4 143.2 133.0 144.2 130.7 148.0 118.1 149.0 116.1 149.7 115.5 152.1 114.2 156.0 112.8 158.6 112.3 161.3 112.1 250.2 112.1"/>
<path stroke="#4DBEEE" d="M28.5 78.4L30.7 89.5 33.7 99.4 35.3 103.8 36.8 107.0 38.2 109.1 39.7 110.5 41.3 111.1 45.7 111.3 51.6 113.3 60.1 114.6 62.3 114.4 66.2 112.8 68.0 112.5 69.7 112.8 73.8 114.8 75.8 115.2 77.6 115.0 82.1 113.3 84.3 113.0 87.6 113.3 93.5 114.7 95.6 115.0 97.8 114.7 101.8 113.0 103.7 112.6 105.5 112.8 109.4 114.5 111.5 115.0 113.3 114.8 117.7 113.8 121.6 113.8 122.0 114.2 122.4 115.1 123.8 121.3 126.0 128.1 127.7 132.8 129.2 136.3 132.0 141.0 134.0 144.0 135.5 145.6 136.9 146.2 138.4 145.9 140.3 144.4 142.5 141.9 144.0 139.2 146.2 133.6 149.0 122.6 150.4 117.7 151.2 115.8 152.3 114.6 154.5 112.9 156.3 111.8 158.2 111.0 161.5 110.3 191.8 109.2 218.4 108.7 250.2 108.6"/>
<path stroke="#D95319" d="M28.5 185.0L30.2 169.1 31.8 156.5 33.6 146.3 35.4 138.7 36.7 134.8 38.2 131.2 40.6 126.3 42.7 122.4 44.1 120.3 45.5 118.8 46.9 117.7 48.5 116.9 52.5 116.0 58.4 115.1 62.9 113.7 64.3 113.4 66.0 113.5 69.5 114.7 71.2 114.9 72.7 114.7 76.0 113.5 77.5 113.2 78.9 113.3 82.6 114.1 84.8 114.3 91.7 114.0 95.9 113.3 97.4 113.2 99.3 113.5 102.6 114.8 103.9 115.0 105.5 114.7 109.2 112.8 110.7 112.6 112.4 113.0 115.7 114.8 117.4 115.1 118.7 114.7 121.8 112.8 123.8 112.3 124.2 112.6 124.6 113.7 125.9 119.6 128.3 127.0 130.5 132.8 132.5 137.0 135.5 141.5 139.0 145.2 141.9 147.7 143.0 148.2 144.2 148.4 145.3 147.9 146.4 146.7 148.4 143.6 149.7 141.0 152.3 133.5 154.9 122.8 157.3 116.6 158.0 115.5 159.9 114.0 161.9 112.6 163.9 111.7 166.9 111.1 183.7 110.7 213.2 110.4 250.2 110.3"/>
<path stroke="#77AC30" d="M28.5 92.6L30.8 99.4 34.0 105.8 35.4 108.2 36.8 110.0 38.2 111.3 39.6 112.0 41.7 112.5 53.3 113.0 55.3 113.5 59.2 114.9 61.0 115.2 63.0 114.8 66.7 113.2 68.6 112.7 70.6 112.7 73.6 113.6 74.9 113.7 76.5 113.5 79.5 112.5 80.2 112.7 81.3 114.3 83.9 119.9 88.2 132.0 90.0 136.1 92.4 139.4 96.5 143.8 99.4 147.4 100.9 148.7 102.0 149.1 102.8 149.0 103.7 148.4 107.9 144.2 113.7 140.5 115.3 138.9 117.0 136.9 119.0 133.8 120.7 130.8 126.0 116.7 126.8 115.1 127.5 114.2 129.0 113.0 130.7 111.9 142.1 105.7 146.4 104.0 150.1 103.3 166.3 103.0 204.2 102.6 250.2 102.5"/>
<path stroke="#0072BD" d="M28.5 156.5L30.3 146.1 32.3 138.4 35.2 130.1 37.4 125.0 38.9 121.8 40.3 119.8 41.7 118.7 42.9 118.4 45.7 118.7 47.2 118.1 48.4 117.1 51.0 114.1 52.5 113.2 53.3 113.1 54.2 113.4 57.1 115.8 58.6 116.3 59.4 116.2 60.1 115.8 63.2 112.9 64.7 112.3 65.5 112.3 66.2 112.6 69.3 115.0 70.3 115.5 71.0 115.6 72.5 115.2 75.2 113.2 76.4 112.6 77.5 112.4 81.2 112.6 82.3 114.0 84.7 119.0 88.2 128.3 89.7 131.4 91.3 133.1 94.6 135.1 96.1 136.3 97.0 137.8 99.1 142.4 99.6 143.2 100.2 143.4 101.1 143.0 103.7 140.5 106.1 139.0 108.5 137.9 113.9 136.4 115.5 135.5 117.0 134.3 118.8 132.2 120.3 129.6 122.2 122.1 123.8 116.8 124.8 114.8 127.0 112.8 129.6 111.2 132.3 110.1 137.1 108.8 144.2 107.3 150.3 106.8 195.7 106.3 250.2 106.1"/>
<path stroke="#77AC30" d="M28.5 121.0L31.0 118.5 32.8 117.1 34.4 116.3 36.5 115.7 40.0 115.8 41.5 115.5 43.0 114.9 46.2 112.8 47.8 112.4 49.6 112.7 53.3 115.1 55.1 115.7 56.8 115.4 60.5 113.4 62.3 112.9 64.0 113.0 68.0 113.7 72.3 114.0 76.2 114.8 77.6 114.9 79.5 114.6 83.4 112.8 85.2 112.5 87.1 112.8 90.9 114.6 92.8 115.1 95.0 114.9 100.9 113.3 104.4 113.0 107.4 113.3 112.6 115.1 113.9 115.2 115.3 114.9 116.8 114.2 120.0 112.0 123.1 110.6 124.0 109.9 126.0 107.6 129.7 102.0 131.4 99.9 135.1 96.5 140.3 92.5 148.0 87.1 153.9 82.7 157.3 81.3 161.2 80.3 164.8 80.2 170.4 80.7 180.2 82.2 193.7 84.6 196.8 85.4 202.5 88.6 203.8 89.2 205.1 89.4 208.3 89.2 216.4 87.7 229.0 86.2 240.2 85.4 250.2 85.1"/>
<path stroke="#EDB120" d="M28.5 74.8L30.3 85.9 32.5 94.5 33.8 98.3 35.2 101.9 36.9 105.3 38.6 108.1 40.3 110.3 42.1 111.4 43.5 111.7 46.6 111.4 48.2 111.6 49.7 112.2 53.3 114.1 55.3 114.5 56.8 114.4 60.8 113.4 62.3 113.4 66.9 114.1 72.7 113.2 74.5 113.5 78.0 114.9 79.5 115.1 81.3 114.6 84.8 112.8 86.3 112.5 87.8 112.8 91.3 114.6 93.0 115.0 94.6 114.8 97.6 113.6 99.1 113.3 100.6 113.3 103.7 114.2 105.2 114.4 106.6 114.2 109.6 113.2 110.9 113.0 112.7 113.4 116.1 115.1 117.5 115.4 119.0 115.0 122.5 112.7 124.2 112.3 125.9 112.7 129.0 114.7 130.7 115.2 132.3 115.0 135.5 113.4 136.9 113.0 138.4 113.2 141.8 114.5 143.4 114.6 144.7 114.1 147.8 111.8 151.5 110.2 153.6 108.7 155.6 106.7 156.9 104.5 160.0 96.8 163.4 91.5 165.2 89.1 166.9 87.4 169.8 84.9 171.9 83.8 179.8 83.2 190.0 83.0 193.7 83.3 202.3 84.6 206.2 84.8 221.9 83.7 250.2 83.3"/>
<path stroke="#7E2F8E" d="M28.5 131.7L30.0 127.6 31.7 123.6 33.2 120.9 34.5 119.2 35.3 118.5 36.3 118.0 39.2 117.5 40.4 117.1 41.6 116.3 44.4 114.0 46.0 113.4 47.3 113.5 50.4 115.2 51.8 115.6 53.1 115.2 56.4 113.0 57.9 112.6 59.4 113.0 62.5 115.1 63.8 115.4 65.3 114.9 68.4 112.8 69.7 112.5 71.2 112.9 74.3 115.0 75.6 115.3 76.9 115.0 79.9 113.1 81.3 112.6 82.8 112.9 85.8 114.7 87.3 115.1 88.5 114.9 91.5 113.2 93.0 112.8 94.3 113.0 97.4 114.6 98.9 114.9 100.2 114.6 103.0 113.4 104.4 113.1 105.7 113.3 108.5 114.4 110.0 114.6 111.3 114.5 114.0 113.5 115.5 113.2 116.8 113.4 119.8 114.4 121.2 114.6 122.5 114.3 125.1 113.3 126.6 113.1 127.9 113.4 130.7 114.6 132.0 114.8 133.4 114.5 136.2 113.1 137.5 112.8 139.0 113.2 142.3 115.0 143.2 115.1 144.0 115.0 147.7 112.6 148.8 112.3 151.2 112.1 153.2 111.3 155.2 110.0 157.5 108.2 159.1 105.4 163.2 95.5 167.6 86.0 169.3 82.8 170.4 81.4 171.3 80.6 175.6 79.1 179.1 78.7 180.7 78.9 182.8 79.4 190.3 82.4 197.7 86.0 202.5 87.9 205.3 88.3 207.9 87.8 214.4 84.9 221.9 82.3 226.0 81.2 238.4 79.9 250.2 79.4"/>
<path stroke="#0072BD" d="M28.5 103.2L29.7 105.7 31.2 107.5 34.7 110.2 38.7 114.0 39.8 114.7 40.9 115.0 42.4 114.8 46.1 112.9 47.9 112.6 49.2 112.8 52.3 113.9 53.8 114.2 55.3 114.1 58.4 113.5 60.1 113.5 64.5 115.1 66.2 115.2 68.0 114.6 71.5 112.4 73.2 112.0 75.1 112.6 78.9 115.1 80.6 115.5 82.3 115.2 86.0 113.3 87.6 113.0 88.9 113.2 91.9 114.1 93.3 114.3 95.0 114.1 98.2 113.2 99.8 113.1 101.3 113.5 104.6 115.0 106.5 115.3 108.1 114.8 111.6 112.8 113.3 112.4 114.8 112.7 118.5 114.6 120.1 115.0 121.6 114.9 124.9 113.4 126.6 113.1 128.3 113.3 132.0 114.7 133.6 114.8 135.1 114.4 138.2 113.0 139.7 112.7 141.4 113.0 144.5 114.5 145.8 114.6 146.9 114.3 149.7 112.7 153.8 111.0 156.3 109.2 158.0 107.6 160.0 104.2 164.1 95.3 168.2 84.6 169.6 81.3 171.5 78.7 173.9 75.7 175.6 74.1 177.0 73.2 178.3 73.0 180.7 73.3 186.8 75.2 189.4 76.6 196.4 81.6 201.6 84.5 202.9 84.9 204.2 85.1 205.5 85.0 207.0 84.6 211.8 82.5 218.8 78.0 220.3 77.3 221.7 76.9 226.7 75.9 232.1 75.3 242.3 74.7 250.2 74.5"/>
<path stroke="#EDB120" d="M28.5 32.2L30.1 52.4 31.8 69.0 33.9 82.8 36.2 93.9 37.8 99.3 39.6 102.8 40.7 104.2 43.8 107.5 47.5 112.5 48.5 113.4 49.4 113.9 50.1 114.0 50.9 113.8 53.8 111.9 55.3 111.5 56.8 111.9 59.9 114.2 61.4 114.8 62.7 114.7 66.2 113.5 67.7 113.5 69.9 114.1 70.6 113.9 71.2 113.5 72.8 111.2 76.9 103.2 78.8 97.9 81.3 89.4 82.6 86.3 86.9 79.8 89.8 76.1 91.3 74.7 92.6 73.7 93.9 73.1 95.0 72.9 95.7 73.0 96.7 73.3 98.5 74.9 104.6 82.4 108.5 87.9 109.6 89.0 110.7 89.5 117.0 89.7 117.9 89.5 119.2 88.3 122.4 83.5 123.6 82.1 125.9 80.8 132.0 78.2 137.5 74.3 138.6 73.8 139.5 73.8 140.5 74.1 141.4 74.8 144.7 78.2 159.7 91.0 167.1 95.6 169.5 96.7 171.5 97.4 180.5 98.3 192.2 98.9 222.3 99.5 250.2 99.7"/>
<path stroke="#4DBEEE" d="M28.5 142.3L30.3 134.5 32.7 128.0 34.7 123.6 36.6 120.0 38.1 117.8 39.5 116.5 40.4 116.0 41.3 115.9 44.9 116.7 46.4 116.6 48.0 115.8 51.2 113.2 52.7 112.6 54.4 112.8 58.1 115.2 59.7 115.7 61.4 115.2 64.3 113.1 65.6 112.5 67.1 112.5 69.1 113.3 69.9 113.5 70.8 113.2 71.5 112.5 73.0 110.3 76.4 103.8 78.2 98.8 82.1 86.1 86.7 74.8 87.8 72.8 88.7 71.6 90.4 70.5 92.1 69.7 93.2 69.5 94.1 69.6 97.6 72.0 101.5 72.7 102.6 73.1 103.7 74.1 110.2 81.2 111.5 82.1 112.6 82.5 114.0 82.1 117.2 80.2 118.8 79.5 133.8 74.6 139.7 71.0 143.0 68.6 144.5 67.9 146.2 67.8 149.7 69.3 151.2 69.5 152.8 68.9 157.1 66.8 161.9 66.1 165.6 65.9 171.1 66.0 194.6 67.7 250.2 69.8"/>
<path stroke="#A2142F" d="M28.5 57.0L30.4 74.1 32.6 86.7 33.7 91.2 35.0 95.4 38.8 104.8 41.0 108.9 41.9 110.1 42.8 110.9 43.6 111.3 44.4 111.4 47.5 110.7 49.0 110.9 50.5 111.7 53.6 114.6 54.5 115.1 55.3 115.2 56.0 115.2 57.0 114.8 59.9 112.5 61.2 111.9 62.7 112.1 64.9 113.6 65.6 113.9 66.6 113.7 67.5 113.0 71.4 106.6 75.8 93.8 79.3 86.5 81.5 82.4 83.0 80.2 84.5 78.6 85.8 77.8 88.5 76.7 89.7 75.9 90.8 74.3 93.5 69.1 94.3 68.2 95.0 67.7 95.4 67.7 95.9 68.0 96.9 69.3 102.0 79.5 103.1 81.2 103.9 81.6 104.2 81.2 105.9 76.4 106.3 75.7 106.8 75.6 107.4 76.0 108.1 76.9 110.3 80.5 112.4 84.2 112.9 84.8 113.5 85.1 114.2 84.6 116.1 80.8 116.8 79.9 117.2 80.1 118.3 83.5 118.7 84.2 118.8 84.2 119.6 82.8 121.2 76.5 122.0 74.9 123.1 75.0 125.9 76.3 126.6 76.4 127.0 76.2 128.1 74.9 130.3 70.7 131.4 69.5 132.0 69.6 132.5 70.2 135.1 76.2 135.8 77.2 136.4 77.2 136.9 76.6 137.5 75.4 140.3 67.2 140.8 66.3 141.4 66.0 142.1 66.6 144.0 70.7 144.7 71.6 147.5 73.0 154.1 74.9 155.6 75.6 156.3 76.4 158.4 80.0 161.2 83.0 162.8 84.4 165.8 86.5 167.2 87.3 168.4 87.6 169.3 87.5 170.4 87.1 174.3 84.0 179.6 80.8 181.7 79.9 183.5 79.5 190.3 79.0 197.2 78.7 228.4 78.7 250.2 78.4"/>
<path stroke="#EDB120" d="M28.5 81.9L30.3 91.2 31.4 94.9 32.5 98.1 34.0 101.4 35.9 104.9 37.8 107.9 39.5 109.8 40.6 110.7 41.7 111.2 45.7 112.2 50.1 113.8 52.0 113.9 55.5 112.8 57.1 112.7 58.6 113.1 61.9 114.8 63.6 115.1 65.3 114.6 71.0 111.6 72.5 110.3 74.1 108.0 75.4 105.8 76.4 103.0 77.8 96.9 80.6 83.4 81.5 80.0 82.3 78.1 85.0 73.3 87.8 69.8 93.0 65.4 94.8 64.3 96.3 63.7 97.6 63.4 98.9 63.6 100.4 64.2 103.0 65.6 104.6 66.8 106.8 68.9 109.6 72.5 110.7 73.6 113.9 75.8 115.0 76.2 116.1 76.4 118.1 76.0 126.2 73.0 127.3 72.4 129.9 70.2 131.0 69.6 132.1 69.5 135.5 70.3 136.6 70.2 137.9 68.7 140.6 63.7 141.8 62.6 142.3 62.5 142.9 62.8 145.4 65.0 148.4 65.8 151.0 65.9 151.7 65.7 152.7 64.9 155.8 61.2 157.1 60.1 158.2 59.8 162.1 59.3 165.2 59.1 169.8 59.1 188.1 59.7 250.2 63.1"/>
</g>
<g fill="none" stroke-width="0.5" stroke-opacity="0.85" stroke-linejoin="round" clip-path="url(#cr)">
<path stroke="#0072BD" d="M301.4 143.1L306.9 142.0 313.5 141.3 321.6 140.9 332.5 140.6"/>
<path stroke="#A2142F" d="M301.4 164.7L305.6 162.5 316.6 155.1 322.7 151.4 329.5 148.2 336.6 145.7 341.1 144.6 345.8 143.6 357.2 142.0 369.0 141.0 383.2 140.6"/>
<path stroke="#4DBEEE" d="M301.4 166.5L303.9 162.8 306.7 159.3 309.5 156.3 312.5 153.6 315.6 151.3 319.1 149.2 322.8 147.4 326.6 145.9 330.7 144.6 335.2 143.6 345.4 142.1 359.8 141.1 376.9 140.6"/>
<path stroke="#77AC30" d="M301.4 132.4L303.5 126.6 304.8 124.3 306.0 122.5 307.3 121.2 308.7 120.3 310.3 119.9 311.9 119.9 314.3 120.4 317.2 121.7 328.5 128.7 334.2 131.8 339.5 134.1 344.9 135.9 353.3 137.9 362.2 139.2 371.8 140.0 383.8 140.4"/>
<path stroke="#7E2F8E" d="M301.4 164.7L303.1 157.2 305.0 150.7 306.9 145.2 308.9 140.8 311.2 137.2 313.5 134.6 316.2 132.6 319.1 131.4 321.0 131.0 323.1 130.9 328.1 131.3 332.3 132.1 348.8 136.0 358.4 137.8 365.5 138.9 376.5 139.9 389.5 140.4"/>
<path stroke="#EDB120" d="M301.4 150.0L306.8 149.1 324.6 144.8 336.6 142.8 344.9 141.9 354.9 141.3 365.5 140.8 377.3 140.6"/>
<path stroke="#D95319" d="M301.4 142.1L303.8 144.8 306.5 146.6 309.4 147.6 313.0 147.8 317.9 147.3 334.2 144.0 345.2 142.4 360.8 141.1 378.3 140.6"/>
<path stroke="#0072BD" d="M301.4 187.3L303.2 176.6 305.3 166.9 307.4 158.8 309.6 152.3 312.1 146.8 314.7 142.5 317.6 139.3 319.2 138.0 320.8 137.0 323.3 135.9 326.0 135.2 329.1 134.9 332.5 134.9 338.4 135.5 358.4 138.3 366.5 139.3 376.7 140.0 388.5 140.4"/>
<path stroke="#A2142F" d="M301.4 126.9L303.0 131.5 304.8 135.5 306.6 138.9 308.5 141.6 310.7 143.9 312.9 145.5 315.4 146.7 318.2 147.4 321.9 147.6 326.4 147.3 346.6 143.8 362.2 141.8 373.2 141.0 386.3 140.6"/>
<path stroke="#4DBEEE" d="M301.4 207.2L303.7 197.0 306.3 187.7 309.0 179.3 311.9 172.2 314.9 166.0 318.2 160.7 321.8 156.2 325.6 152.4 329.5 149.5 334.0 147.0 338.8 145.1 344.5 143.5 351.3 142.4 359.6 141.4 368.6 140.9 379.5 140.6"/>
<path stroke="#77AC30" d="M301.4 165.1L303.3 167.4 305.5 168.8 307.8 169.3 310.4 169.0 313.0 167.9 316.1 166.2 328.5 157.3 334.8 153.3 341.1 150.0 347.6 147.4 358.2 144.2 367.5 142.3 377.9 141.1 390.7 140.6"/>
<path stroke="#7E2F8E" d="M301.4 104.1L302.9 116.7 304.5 126.8 306.1 135.5 307.9 142.9 309.8 148.7 312.0 153.1 313.1 154.8 314.3 156.2 315.5 157.1 316.9 157.9 318.4 158.3 320.1 158.4 322.0 158.2 324.0 157.6 327.4 156.1 337.6 150.9 343.5 148.3 349.6 146.1 358.0 143.7 364.5 142.4 371.4 141.5 379.1 140.9 388.5 140.6"/>
<path stroke="#EDB120" d="M301.4 155.6L303.0 151.2 304.7 147.7 306.4 144.7 308.3 142.1 310.4 140.1 312.6 138.5 315.0 137.4 317.7 136.7 321.1 136.3 325.4 136.4 344.9 138.5 355.7 139.4 367.3 140.1 380.4 140.4"/>
<path stroke="#D95319" d="M301.4 144.6L302.7 141.3 304.1 138.5 305.7 136.1 307.3 134.1 309.0 132.7 311.0 131.5 313.0 130.9 315.2 130.6 318.0 130.6 321.3 131.2 339.3 135.9 345.2 137.1 351.3 138.1 359.0 139.0 366.5 139.7 374.7 140.2 384.2 140.4"/>
<path stroke="#0072BD" d="M301.4 145.7L302.6 151.7 303.8 156.6 305.2 160.6 306.5 163.7 307.9 166.1 309.5 167.9 311.3 168.9 313.2 169.1 314.5 168.9 315.8 168.4 319.0 166.6 331.1 156.7 337.2 152.4 342.5 149.3 348.2 146.8 357.2 144.0 365.9 142.2 375.7 141.1 388.1 140.6"/>
<path stroke="#A2142F" d="M301.4 113.8L302.8 113.6 304.5 113.7 306.2 114.2 308.0 115.0 311.5 117.1 322.2 124.8 328.3 128.7 335.2 132.2 342.5 134.9 351.3 137.1 362.4 139.0 373.0 139.9 386.5 140.4"/>
<path stroke="#4DBEEE" d="M301.4 116.5L303.2 115.7 305.2 115.4 307.3 115.7 309.6 116.4 313.8 118.6 325.2 125.9 331.7 129.5 339.0 132.8 346.8 135.3 356.8 137.6 365.9 139.1 375.9 140.0 388.3 140.4"/>
<path stroke="#77AC30" d="M301.4 137.9L304.0 135.3 307.0 133.6 310.3 132.6 314.1 132.4 319.7 133.0 337.4 136.6 349.2 138.3 365.7 139.8 383.8 140.4"/>
<path stroke="#7E2F8E" d="M301.4 126.2L303.0 129.4 304.9 132.4 306.8 134.8 308.8 136.9 311.1 138.6 313.4 139.9 316.1 140.9 318.9 141.6 323.7 142.2 329.9 142.3 359.6 141.0 376.7 140.6"/>
<path stroke="#EDB120" d="M301.4 146.0L304.6 143.3 308.1 141.3 312.2 140.0 317.1 139.3 325.7 139.1 349.6 140.0 370.6 140.4"/>
<path stroke="#D95319" d="M301.4 139.4L302.8 143.4 304.2 146.6 305.8 149.3 307.4 151.5 309.1 153.2 311.1 154.5 313.1 155.2 315.3 155.4 318.1 155.2 321.2 154.5 340.7 147.3 347.2 145.5 354.9 143.8 362.4 142.4 370.0 141.5 378.3 140.9 388.5 140.6"/>
<path stroke="#0072BD" d="M301.4 156.8L303.1 153.2 305.0 150.1 306.9 147.5 308.9 145.3 311.2 143.4 313.5 142.0 316.2 140.9 319.1 140.0 324.3 139.3 330.9 139.1 360.8 140.1 375.5 140.4"/>
<path stroke="#A2142F" d="M301.4 79.8L303.0 93.5 304.9 106.1 306.7 116.0 308.7 124.6 311.0 131.7 313.3 137.1 316.0 141.3 317.5 143.0 319.0 144.3 321.1 145.5 323.5 146.3 326.0 146.7 329.1 146.7 334.2 146.1 349.6 143.4 360.6 141.9 371.4 141.0 384.6 140.6"/>
<path stroke="#4DBEEE" d="M301.4 158.8L303.5 156.2 305.9 153.7 308.3 151.5 310.9 149.7 313.6 148.0 316.6 146.5 319.7 145.3 323.2 144.2 330.7 142.7 339.9 141.6 351.7 141.0 368.1 140.6"/>
<path stroke="#77AC30" d="M301.4 182.8L303.3 181.2 305.7 178.9 317.1 166.0 323.5 159.6 327.0 156.6 330.7 153.9 334.4 151.6 338.2 149.6 342.9 147.5 347.8 145.8 354.3 144.1 360.6 142.8 366.5 141.9 372.8 141.3 388.3 140.6"/>
<path stroke="#7E2F8E" d="M301.4 116.7L303.2 121.2 305.2 125.0 307.2 128.4 309.4 131.3 311.8 133.7 314.4 135.8 317.3 137.4 320.3 138.6 323.3 139.5 326.6 140.1 335.0 140.8 345.8 140.9 371.6 140.6"/>
<path stroke="#EDB120" d="M301.4 151.4L303.1 149.1 304.9 147.2 306.8 145.4 308.8 143.9 311.1 142.7 313.4 141.7 316.1 141.0 319.0 140.4 324.4 139.8 331.3 139.6 371.6 140.4"/>
<path stroke="#D95319" d="M301.4 209.9L303.0 191.0 304.8 174.7 306.6 161.1 308.5 150.0 310.7 140.8 313.0 133.7 314.2 131.0 315.5 128.7 317.0 126.8 318.4 125.5 320.0 124.4 321.9 123.8 323.8 123.7 326.0 124.0 328.3 124.6 330.9 125.6 341.5 130.6 347.0 132.9 354.1 135.3 360.2 137.1 366.5 138.5 373.2 139.5 380.8 140.1 390.1 140.4"/>
<path stroke="#0072BD" d="M301.4 88.2L303.2 100.2 305.2 110.5 307.2 119.2 309.4 126.6 311.8 132.5 314.4 137.3 317.3 140.9 318.9 142.4 320.5 143.5 323.0 144.7 325.6 145.5 328.7 145.8 332.1 145.9 337.8 145.3 357.2 142.7 365.5 141.7 375.7 141.0 387.5 140.6"/>
<path stroke="#A2142F" d="M301.4 110.1L303.0 116.7 304.8 122.3 306.6 127.1 308.5 131.1 310.7 134.5 313.0 137.2 315.5 139.2 318.4 140.8 320.7 141.5 323.3 142.1 326.2 142.4 329.7 142.5 358.8 141.0 375.7 140.6"/>
<path stroke="#4DBEEE" d="M301.4 96.0L309.2 109.7 312.6 114.8 315.8 119.2 319.3 123.1 322.9 126.5 326.6 129.5 330.5 131.9 334.6 134.0 338.8 135.6 343.7 137.0 349.0 138.1 355.7 139.0 362.9 139.7 370.8 140.2 380.4 140.4"/>
<path stroke="#77AC30" d="M301.4 135.0L302.7 128.4 304.0 123.1 305.6 118.4 307.1 114.8 308.7 112.0 310.6 110.1 312.5 109.0 314.5 108.8 316.0 109.0 317.5 109.5 320.9 111.5 324.2 114.0 334.6 122.6 341.5 127.5 347.4 130.8 354.3 133.9 362.7 136.8 366.7 137.9 371.0 138.7 380.4 139.9 392.2 140.4"/>
<path stroke="#7E2F8E" d="M301.4 167.6L302.9 159.4 304.6 152.3 306.3 146.4 308.1 141.6 310.0 137.8 312.2 134.9 314.5 132.8 317.2 131.5 318.8 131.1 320.6 130.9 324.8 131.3 328.7 132.2 344.3 136.3 350.2 137.5 358.6 138.8 370.4 139.9 384.8 140.4"/>
<path stroke="#EDB120" d="M301.4 135.8L304.6 138.4 308.2 140.3 312.4 141.5 317.5 142.2 325.6 142.3 352.9 141.1 374.3 140.6"/>
<path stroke="#D95319" d="M301.4 126.4L304.0 130.0 306.9 132.9 310.2 135.3 313.7 137.1 317.8 138.5 322.5 139.4 328.1 140.0 335.2 140.4"/>
<path stroke="#0072BD" d="M301.4 146.3L304.8 144.0 308.6 142.3 313.0 141.1 318.3 140.4 323.6 140.1 330.3 140.0 365.9 140.4"/>
<path stroke="#A2142F" d="M301.4 73.4L303.2 75.8 305.4 79.3 316.5 100.1 319.7 105.7 322.9 110.6 326.4 115.5 330.1 119.9 334.0 123.8 337.8 127.0 342.5 130.2 347.4 132.8 353.9 135.3 360.2 137.3 366.3 138.6 372.8 139.5 380.4 140.1 389.7 140.4"/>
<path stroke="#4DBEEE" d="M301.4 90.1L302.9 107.4 304.5 121.4 306.1 133.2 307.9 143.4 309.8 151.2 311.9 156.9 313.0 159.2 314.2 161.0 315.4 162.4 316.8 163.4 318.3 164.0 319.9 164.1 321.6 163.8 323.7 163.1 327.0 161.2 337.2 154.2 343.1 150.6 349.4 147.6 357.6 144.7 364.3 142.9 371.4 141.7 379.5 141.0 389.5 140.6"/>
<path stroke="#77AC30" d="M301.4 107.0L303.2 115.4 305.2 122.5 307.2 128.6 309.4 133.7 311.8 137.8 314.3 141.0 317.2 143.4 320.3 145.1 322.6 145.8 325.0 146.2 327.9 146.4 330.9 146.3 336.0 145.7 355.9 142.9 365.1 141.8 375.7 141.0 388.1 140.6"/>
<path stroke="#7E2F8E" d="M301.4 126.9L307.0 130.6 312.9 133.4 319.4 135.7 326.6 137.4 334.6 138.6 344.1 139.5 357.0 140.1 371.8 140.4"/>
<path stroke="#EDB120" d="M301.4 136.8L304.5 138.1 307.8 139.1 311.7 139.9 316.3 140.4 327.2 140.7 352.5 140.6"/>
<path stroke="#D95319" d="M301.4 160.9L302.8 153.2 304.2 147.0 305.8 141.8 307.4 137.5 309.2 133.9 311.2 131.3 313.3 129.6 315.6 128.6 318.6 128.3 322.2 128.9 325.4 129.9 334.8 133.4 340.1 135.1 346.0 136.7 352.3 137.9 359.2 138.9 366.3 139.7 374.0 140.1 383.6 140.4"/>
<path stroke="#0072BD" d="M301.4 96.1L302.9 111.1 304.5 123.3 306.1 133.6 307.9 142.5 309.8 149.4 311.9 154.4 313.0 156.4 314.2 158.1 315.4 159.3 316.8 160.2 318.3 160.7 319.9 160.9 321.8 160.6 323.8 160.0 327.2 158.3 337.4 152.3 343.3 149.3 349.4 146.8 357.8 144.1 364.3 142.6 371.2 141.6 379.1 140.9 388.9 140.6"/>
<path stroke="#A2142F" d="M301.4 136.3L304.6 139.2 308.1 141.2 312.2 142.5 317.2 143.1 325.1 143.0 344.1 141.8 357.4 141.1 377.3 140.6"/>
<path stroke="#4DBEEE" d="M301.4 150.6L305.3 147.9 309.5 145.7 314.4 144.0 320.0 142.7 326.4 141.8 334.2 141.2 343.7 140.8 356.8 140.6"/>
<path stroke="#77AC30" d="M301.4 70.9L304.9 77.6 314.6 99.5 320.0 109.9 323.4 115.3 326.8 120.0 330.5 124.2 334.2 127.6 338.4 130.7 343.1 133.4 348.2 135.5 354.3 137.3 360.6 138.6 367.3 139.5 375.3 140.1 385.0 140.4"/>
<path stroke="#7E2F8E" d="M301.4 132.2L304.5 136.0 306.2 137.6 308.0 138.9 309.9 139.9 312.1 140.8 314.4 141.4 317.1 141.8 320.9 142.1 325.8 142.1 350.0 141.1 371.2 140.6"/>
<path stroke="#EDB120" d="M301.4 146.8L302.8 140.6 304.4 135.1 306.0 130.5 307.7 126.9 309.5 124.0 311.5 122.1 313.6 120.8 316.1 120.2 318.9 120.4 322.3 121.4 326.4 123.3 337.2 129.0 342.3 131.3 348.8 133.8 357.6 136.5 364.9 138.2 372.4 139.3 380.8 140.0 390.9 140.4"/>
<path stroke="#D95319" d="M301.4 158.7L302.5 162.4 303.7 165.6 305.0 168.1 306.3 170.1 307.7 171.5 309.1 172.4 310.7 172.8 312.4 172.7 315.0 171.7 318.2 169.7 330.7 159.0 336.8 154.4 342.7 150.9 348.8 148.0 358.6 144.5 363.1 143.4 367.5 142.4 372.4 141.7 377.7 141.2 390.5 140.6"/>
<path stroke="#0072BD" d="M301.4 186.4L311.6 170.6 314.9 166.0 318.1 162.1 321.6 158.2 325.2 154.9 329.1 152.0 332.9 149.6 337.2 147.4 341.9 145.6 347.0 144.2 352.9 143.0 359.4 142.0 366.1 141.3 373.8 140.9 383.2 140.6"/>
<path stroke="#A2142F" d="M301.4 141.1L302.7 144.5 304.1 147.5 305.7 149.9 307.3 151.9 308.9 153.3 310.8 154.4 312.8 155.0 314.9 155.2 317.5 154.9 320.5 154.2 339.7 147.2 346.0 145.4 353.1 143.9 361.0 142.5 369.0 141.5 377.5 140.9 387.9 140.6"/>
<path stroke="#4DBEEE" d="M301.4 163.3L303.6 159.9 306.0 157.0 308.5 154.2 311.2 151.9 314.0 149.8 317.1 148.0 320.3 146.4 323.9 145.1 327.4 144.0 331.5 143.1 341.1 141.8 353.9 141.0 370.6 140.6"/>
<path stroke="#77AC30" d="M301.4 182.8L303.0 173.5 304.8 165.5 306.6 158.7 308.6 152.8 310.8 148.1 313.2 144.2 315.7 141.4 318.7 139.3 320.9 138.4 323.4 137.7 326.2 137.4 329.5 137.3 334.4 137.5 359.4 139.7 368.8 140.1 379.5 140.4"/>
<path stroke="#7E2F8E" d="M301.4 80.5L309.9 99.5 313.4 106.2 316.8 111.9 320.3 117.2 324.0 121.7 327.9 125.6 331.9 129.0 336.4 131.8 341.1 134.1 346.2 135.9 352.1 137.5 358.8 138.7 365.9 139.6 374.0 140.1 384.0 140.4"/>
<path stroke="#EDB120" d="M301.4 140.5L301.5 140.5"/>
<path stroke="#D95319" d="M301.4 129.5L302.9 136.2 304.6 141.9 306.3 146.7 308.1 150.6 310.0 153.6 312.2 155.8 314.5 157.3 317.1 158.0 320.2 157.9 324.1 157.0 327.7 155.6 338.2 151.0 344.3 148.6 351.9 146.1 360.4 143.8 367.1 142.5 374.3 141.5 382.0 140.9 391.3 140.6"/>
<path stroke="#0072BD" d="M301.4 127.1L303.1 125.5 305.1 124.5 307.1 124.1 309.4 124.2 311.8 124.8 314.5 125.8 325.6 131.0 331.3 133.4 336.8 135.3 342.7 136.8 350.4 138.2 360.8 139.4 370.6 140.1 382.4 140.4"/>
<path stroke="#A2142F" d="M301.4 136.3L302.7 138.5 304.1 140.5 305.7 142.2 307.3 143.6 309.0 144.6 311.0 145.4 313.0 145.9 315.2 146.2 318.1 146.2 321.5 145.8 338.4 143.2 349.2 142.0 363.5 141.0 378.9 140.6"/>
<path stroke="#4DBEEE" d="M301.4 68.9L304.1 79.7 307.1 89.6 310.2 98.3 313.3 105.8 316.7 112.4 320.2 118.1 324.1 123.0 328.3 127.1 332.5 130.4 337.2 133.1 342.3 135.2 348.2 136.9 355.7 138.4 363.7 139.4 372.6 140.1 383.6 140.4"/>
<path stroke="#77AC30" d="M301.4 160.0L302.9 153.8 304.6 148.5 306.3 143.9 308.2 140.1 310.3 137.1 312.5 134.7 314.9 133.1 317.6 132.2 321.1 131.8 325.4 132.2 345.2 136.6 360.0 138.9 371.6 139.9 385.9 140.4"/>
<path stroke="#7E2F8E" d="M301.4 120.2L309.4 126.1 316.4 130.2 320.0 132.0 323.7 133.5 331.5 136.0 340.1 137.8 350.0 139.0 363.7 140.0 379.3 140.4"/>
<path stroke="#EDB120" d="M301.4 163.3L303.0 157.8 304.7 153.4 306.5 149.4 308.4 146.1 310.6 143.4 312.8 141.3 315.3 139.7 318.1 138.6 322.4 137.8 327.9 137.7 357.0 139.7 377.7 140.4"/>
<path stroke="#D95319" d="M301.4 144.3L315.1 142.6 327.7 141.6 342.5 140.9 363.1 140.6"/>
<path stroke="#0072BD" d="M301.4 99.1L304.2 105.3 307.2 111.0 310.3 116.0 313.3 120.3 316.6 124.1 319.9 127.3 323.6 130.2 327.4 132.6 331.5 134.5 335.8 136.1 340.5 137.3 345.8 138.4 352.3 139.2 359.6 139.8 377.1 140.4"/>
<path stroke="#A2142F" d="M301.4 145.9L304.5 143.8 307.9 142.2 311.9 141.1 316.7 140.4 321.3 140.1 327.4 140.0 359.2 140.4"/>
<path stroke="#4DBEEE" d="M301.4 107.3L305.2 112.2 308.8 116.5 312.4 120.2 316.1 123.6 319.8 126.5 323.7 129.0 327.9 131.3 332.1 133.2 336.8 134.9 341.9 136.3 347.4 137.4 353.7 138.4 360.6 139.2 367.5 139.8 384.4 140.4"/>
<path stroke="#77AC30" d="M301.4 141.2L310.8 140.6"/>
<path stroke="#7E2F8E" d="M301.4 132.3L304.9 135.5 308.7 137.9 313.2 139.5 318.6 140.6 323.9 141.0 330.7 141.1 367.9 140.6"/>
<path stroke="#EDB120" d="M301.4 77.2L305.8 87.8 309.5 96.1 313.2 103.3 316.9 109.7 320.6 115.2 324.5 120.1 328.7 124.3 332.9 127.9 337.8 131.0 342.9 133.5 348.4 135.5 355.1 137.3 361.8 138.6 369.0 139.5 377.1 140.1 387.1 140.4"/>
<path stroke="#D95319" d="M301.4 132.3L304.6 135.6 308.1 138.0 312.3 139.6 317.3 140.6 322.1 141.1 328.3 141.2 364.7 140.6"/>
<path stroke="#0072BD" d="M301.4 114.9L303.0 121.8 304.7 127.3 306.5 132.3 308.4 136.4 310.5 139.6 312.7 142.1 315.2 144.0 318.0 145.2 321.6 145.9 326.2 145.9 330.9 145.4 346.0 143.1 357.2 141.8 368.8 141.0 382.6 140.6"/>
<path stroke="#A2142F" d="M301.4 159.4L302.9 151.3 304.5 144.7 306.1 139.2 307.9 134.5 309.8 130.8 311.9 128.2 314.1 126.4 316.7 125.4 319.7 125.2 323.5 125.9 327.0 127.2 337.2 131.5 343.1 133.7 349.2 135.5 357.6 137.5 364.3 138.7 371.2 139.6 378.9 140.1 388.5 140.4"/>
<path stroke="#4DBEEE" d="M301.4 106.4L310.2 116.8 313.7 120.5 317.2 123.7 320.8 126.6 324.6 129.2 328.5 131.4 332.5 133.3 337.0 134.9 341.9 136.4 347.0 137.5 353.1 138.4 359.6 139.2 366.5 139.8 383.0 140.4"/>
<path stroke="#77AC30" d="M301.4 115.2L313.4 124.0 319.9 128.2 327.2 131.9 331.1 133.5 335.2 134.8 339.9 136.1 344.7 137.2 356.8 138.9 369.0 139.9 384.0 140.4"/>
<path stroke="#7E2F8E" d="M301.4 90.7L304.4 98.3 307.3 104.8 310.5 110.7 313.7 116.0 317.2 120.6 320.7 124.5 324.6 127.9 328.7 130.8 332.9 133.1 337.4 135.0 342.5 136.5 348.2 137.8 355.5 138.9 363.1 139.6 371.4 140.1 381.8 140.4"/>
<path stroke="#EDB120" d="M301.4 181.9L302.7 181.4 304.0 180.7 307.2 178.1 310.2 175.0 319.9 163.9 326.4 157.7 329.7 155.0 332.9 152.7 336.2 150.7 339.7 148.9 343.9 147.1 348.6 145.5 354.9 143.8 360.8 142.6 366.3 141.8 372.4 141.2 387.5 140.6"/>
<path stroke="#D95319" d="M301.4 100.1L302.8 119.1 304.4 135.5 305.9 148.4 307.6 159.6 309.4 168.1 311.4 174.3 312.4 176.5 313.5 178.4 314.7 179.7 316.0 180.5 317.3 180.8 318.7 180.6 320.3 179.9 322.1 178.7 325.8 175.0 336.2 163.1 341.5 157.8 344.7 155.0 348.0 152.6 355.9 147.9 359.8 146.0 363.5 144.6 367.3 143.4 371.4 142.4 375.7 141.7 380.4 141.2 392.2 140.6"/>
<path stroke="#0072BD" d="M301.4 165.1L303.9 161.5 306.7 158.3 309.5 155.4 312.5 152.9 315.6 150.6 319.0 148.7 322.6 147.0 326.4 145.6 330.5 144.4 334.8 143.4 344.7 142.0 358.8 141.1 375.5 140.6"/>
<path stroke="#A2142F" d="M301.4 97.0L303.5 103.8 305.8 109.8 308.2 115.3 310.8 119.9 313.5 123.9 316.5 127.4 319.6 130.3 323.1 132.8 326.6 134.7 330.7 136.3 335.2 137.6 340.3 138.5 346.2 139.3 353.3 139.8 371.8 140.4"/>
<path stroke="#4DBEEE" d="M301.4 63.9L304.2 75.8 307.1 86.0 310.2 95.4 313.3 103.6 316.7 110.7 320.2 116.9 324.0 122.1 328.1 126.5 332.3 130.1 336.8 132.9 341.9 135.1 347.6 136.9 354.9 138.4 362.7 139.4 371.4 140.1 382.4 140.4"/>
<path stroke="#77AC30" d="M301.4 153.8L302.7 147.7 304.1 142.4 305.7 137.9 307.3 134.3 309.0 131.5 310.9 129.5 312.9 128.1 315.1 127.4 317.9 127.4 321.1 128.0 338.4 134.5 344.1 136.2 350.0 137.5 357.8 138.7 365.3 139.6 373.6 140.1 383.8 140.4"/>
<path stroke="#7E2F8E" d="M301.4 126.4L310.2 130.6 316.9 133.3 324.0 135.5 331.5 137.2 339.9 138.5 349.4 139.4 362.4 140.1 376.9 140.4"/>
<path stroke="#EDB120" d="M301.4 93.4L303.7 95.1 306.4 97.9 318.2 113.2 324.5 120.4 327.9 123.6 331.1 126.3 334.6 128.8 338.2 131.0 342.7 133.1 347.4 134.9 353.5 136.7 359.6 138.1 365.5 139.0 371.8 139.7 378.9 140.1 387.5 140.4"/>
<path stroke="#D95319" d="M301.4 108.6L303.1 115.3 305.1 121.5 307.1 126.7 309.3 131.2 311.7 134.8 314.3 137.7 317.2 140.0 320.3 141.6 322.9 142.4 325.7 142.9 328.9 143.2 332.7 143.2 339.0 143.0 364.9 141.2 383.0 140.6"/>
<path stroke="#0072BD" d="M301.4 134.4L302.9 139.3 304.5 143.3 306.1 146.6 307.9 149.5 309.8 151.7 311.9 153.3 314.1 154.3 316.7 154.7 319.7 154.6 323.3 153.9 343.5 147.0 349.6 145.4 358.8 143.4 365.7 142.2 372.6 141.4 380.4 140.9 389.7 140.6"/>
<path stroke="#A2142F" d="M301.4 142.3L302.6 134.7 303.8 128.5 305.2 123.3 306.6 119.1 308.0 116.1 309.6 113.8 311.4 112.5 313.3 112.1 314.5 112.2 315.8 112.6 319.0 114.5 321.9 116.7 330.9 124.6 336.8 129.0 341.9 131.9 347.4 134.4 355.9 137.1 364.5 138.9 374.3 139.9 386.7 140.4"/>
<path stroke="#4DBEEE" d="M301.4 156.2L305.7 154.7 316.6 150.1 322.7 147.8 329.5 145.7 336.4 144.1 345.4 142.7 356.5 141.6 367.9 140.9 381.2 140.6"/>
<path stroke="#77AC30" d="M301.4 165.2L309.0 157.7 312.3 155.0 315.4 152.6 318.8 150.4 322.2 148.6 325.7 147.0 329.5 145.6 333.3 144.4 337.6 143.4 347.2 142.0 360.2 141.0 375.7 140.6"/>
<path stroke="#7E2F8E" d="M301.4 182.0L305.6 175.1 309.1 169.7 312.7 164.9 316.2 160.8 319.7 157.2 323.5 154.0 327.4 151.2 331.5 148.9 335.8 146.9 340.5 145.3 345.6 144.0 351.3 142.9 358.2 141.9 365.3 141.3 373.2 140.8 382.8 140.6"/>
<path stroke="#EDB120" d="M301.4 130.1L302.7 139.4 304.1 147.5 305.7 154.4 307.3 159.9 309.0 164.1 310.9 167.0 312.9 168.9 314.0 169.5 315.1 169.7 316.4 169.7 317.7 169.4 320.7 168.0 324.6 165.3 334.8 157.0 339.9 153.4 346.4 149.6 353.7 146.5 361.6 143.8 369.8 142.1 378.9 141.1 390.5 140.6"/>
<path stroke="#D95319" d="M301.4 136.2L304.0 140.1 305.6 141.7 307.1 142.9 308.7 143.8 310.6 144.5 312.5 145.0 314.6 145.3 317.4 145.3 320.7 145.0 337.0 142.8 347.4 141.7 360.8 141.0 375.5 140.6"/>
<path stroke="#0072BD" d="M301.4 168.2L303.0 161.6 304.7 156.2 306.4 151.6 308.3 147.6 310.4 144.4 312.6 141.8 315.1 139.8 317.9 138.5 319.8 137.9 322.1 137.5 327.4 137.3 356.1 139.7 366.3 140.1 377.7 140.4"/>
<path stroke="#A2142F" d="M301.4 110.4L302.8 121.7 304.4 131.5 305.9 139.2 307.6 145.8 309.4 151.0 311.5 155.0 313.6 157.5 314.8 158.4 316.1 159.0 317.5 159.3 319.0 159.3 320.7 159.0 322.6 158.4 325.8 156.9 335.6 151.5 341.3 148.7 347.6 146.2 354.7 144.2 361.6 142.6 369.0 141.6 377.1 140.9 387.3 140.6"/>
<path stroke="#4DBEEE" d="M301.4 119.5L312.3 126.7 318.5 130.4 325.4 133.5 332.7 135.9 341.3 137.8 351.3 139.0 364.1 140.0 379.1 140.4"/>
<path stroke="#77AC30" d="M301.4 138.5L302.7 145.0 304.1 150.7 305.7 155.4 307.2 158.9 308.8 161.7 310.7 163.7 312.7 165.0 314.8 165.4 317.4 165.0 320.3 163.8 324.1 161.6 334.4 154.6 339.5 151.6 346.0 148.5 353.1 145.8 361.2 143.5 369.4 142.0 378.5 141.1 390.1 140.6"/>
<path stroke="#7E2F8E" d="M301.4 77.0L303.0 86.7 304.8 95.4 306.6 103.1 308.6 110.2 310.7 116.0 312.9 121.1 315.3 125.5 318.0 129.2 320.7 132.1 323.8 134.5 327.0 136.3 330.9 137.8 335.2 138.9 340.1 139.6 346.0 140.1 353.7 140.4"/>
<path stroke="#77AC30" d="M301.4 135.4L302.7 123.5 304.0 113.9 305.5 105.8 306.9 99.7 308.4 94.9 310.2 91.4 311.1 90.2 312.0 89.4 312.9 89.0 313.9 88.9 315.2 89.2 316.7 90.0 318.3 91.5 320.0 93.4 323.1 97.6 332.7 111.9 336.0 116.2 339.3 120.0 342.1 123.0 344.9 125.7 348.0 128.1 351.1 130.2 355.3 132.6 360.4 134.9 365.3 136.7 370.2 138.0 375.3 139.0 381.0 139.7 387.5 140.1 395.2 140.4"/>
<path stroke="#7E2F8E" d="M301.4 119.2L302.9 133.3 304.5 145.0 306.1 154.9 307.8 163.0 309.6 169.3 311.6 173.9 312.6 175.5 313.7 176.9 314.8 177.8 316.1 178.3 317.4 178.4 318.8 178.0 320.3 177.3 322.1 176.0 325.8 172.4 335.8 161.3 340.5 156.7 343.5 154.2 346.6 151.9 349.8 149.8 353.1 148.1 357.2 146.3 361.8 144.6 366.1 143.4 370.6 142.4 375.3 141.7 380.4 141.2 393.4 140.6"/>
<path stroke="#EDB120" d="M301.4 135.1L302.9 147.5 304.6 158.4 306.2 167.1 307.9 174.3 309.6 179.5 311.6 183.5 312.6 184.9 313.6 185.8 314.6 186.4 315.7 186.6 317.1 186.5 318.4 185.9 319.8 184.9 321.3 183.5 325.1 179.1 335.0 165.7 339.7 160.2 342.7 157.0 346.0 154.1 349.2 151.6 352.5 149.5 356.3 147.5 361.2 145.4 365.7 143.9 370.2 142.7 375.1 141.8 380.4 141.2 393.8 140.6"/>
<path stroke="#7E2F8E" d="M301.4 153.3L302.8 161.8 304.2 168.7 305.9 174.9 307.5 179.6 309.2 183.1 311.2 185.6 312.2 186.4 313.2 186.9 314.2 187.2 315.3 187.1 316.9 186.7 318.6 185.8 320.4 184.4 322.5 182.5 326.0 178.5 337.0 165.2 340.7 161.2 344.1 157.8 350.2 152.7 353.3 150.5 356.5 148.6 361.2 146.1 365.5 144.2 369.8 142.8 374.3 141.7 378.9 141.0 384.0 140.6 398.1 140.4"/>
<path stroke="#77AC30" d="M301.4 163.8L302.7 172.1 304.1 179.3 305.7 185.3 307.2 189.9 308.8 193.3 310.7 195.7 311.6 196.5 312.6 196.9 313.6 197.1 314.6 197.0 316.2 196.4 317.8 195.3 319.6 193.5 321.5 191.3 325.1 186.5 336.0 170.5 339.7 165.6 343.1 161.5 346.2 158.2 349.4 155.1 352.7 152.4 356.1 149.9 361.0 146.9 365.5 144.6 370.0 142.9 374.5 141.7 379.3 140.9 384.6 140.5 390.7 140.3 400.1 140.4"/>
<path stroke="#4DBEEE" d="M301.4 196.4L302.6 203.3 303.8 208.8 305.2 213.4 306.6 217.0 308.0 219.4 309.5 220.8 310.4 221.1 311.2 221.2 312.1 221.0 313.0 220.5 314.4 219.4 316.0 217.7 319.5 212.2 322.8 206.1 332.9 185.7 336.4 179.3 339.7 173.8 342.7 169.2 345.8 165.0 348.8 161.3 352.1 157.8 356.1 154.1 361.8 149.8 366.5 146.8 371.0 144.6 375.7 143.0 380.8 141.8 386.5 141.0 393.4 140.6"/>
<path stroke="#D95319" d="M301.4 71.1L303.4 51.0 304.5 44.0 305.6 38.3 306.8 34.1 308.0 31.6 308.6 30.9 309.3 30.5 310.0 30.5 310.8 30.9 311.9 32.1 313.1 34.1 316.0 41.1 318.7 49.5 327.7 79.0 330.9 88.6 334.0 96.6 337.0 103.7 340.3 110.2 343.5 115.8 347.0 120.7 351.3 125.6 355.7 129.5 361.4 133.3 367.1 136.1 372.6 137.9 378.9 139.2 386.3 140.0 395.4 140.4"/>
<path stroke="#EDB120" d="M301.4 67.3L302.5 53.6 303.6 42.6 304.9 33.2 306.1 26.3 307.4 21.0 308.8 17.7 309.5 16.8 310.4 16.3 311.2 16.3 312.0 16.7 313.3 18.3 314.6 20.8 316.2 24.4 317.8 29.1 320.7 38.8 330.1 72.0 333.1 81.8 336.2 90.7 339.0 98.2 341.9 104.7 344.9 110.9 348.0 116.2 351.9 121.8 355.9 126.6 361.0 131.3 366.1 134.8 370.8 137.2 375.9 138.8 381.6 139.8 388.7 140.4"/>
</g>
<path d="M368.6 140.5H545.6" stroke="#D95319" stroke-width="1.3" stroke-opacity="0.42" fill="none"/>
<g fill="none" stroke="#b6b6b6" stroke-width="1.2">
<rect x="28.5" y="7.3" width="221.7" height="213.2"/>
<rect x="301.4" y="7.0" width="244.2" height="213.6"/>
</g>
<path d="M83.9 220.5v-2.2M83.9 7.3v2.2M362.4 220.6v-2.2M362.4 7.0v2.2M139.3 220.5v-2.2M139.3 7.3v2.2M423.5 220.6v-2.2M423.5 7.0v2.2M194.8 220.5v-2.2M194.8 7.3v2.2M484.6 220.6v-2.2M484.6 7.0v2.2M28.5 185.0h2.2M250.2 185.0h-2.2M28.5 149.4h2.2M250.2 149.4h-2.2M28.5 113.9h2.2M250.2 113.9h-2.2M28.5 78.4h2.2M250.2 78.4h-2.2M28.5 42.8h2.2M250.2 42.8h-2.2M301.4 193.9h2.2M545.6 193.9h-2.2M301.4 167.2h2.2M545.6 167.2h-2.2M301.4 140.5h2.2M545.6 140.5h-2.2M301.4 113.8h2.2M545.6 113.8h-2.2M301.4 87.1h2.2M545.6 87.1h-2.2M301.4 60.4h2.2M545.6 60.4h-2.2M301.4 33.7h2.2M545.6 33.7h-2.2" stroke="#8a8a8a" stroke-width="0.8" fill="none"/>
<g font-family="Liberation Sans, Arial, sans-serif" font-weight="bold" font-size="8.7" fill="#1a1a1a" stroke="#1a1a1a" stroke-width="0.25">
<text x="24.9" y="223.9" text-anchor="end">-3</text>
<text x="24.9" y="188.4" text-anchor="end">-2</text>
<text x="24.9" y="152.8" text-anchor="end">-1</text>
<text x="24.9" y="117.3" text-anchor="end">0</text>
<text x="24.9" y="81.8" text-anchor="end">1</text>
<text x="24.9" y="46.2" text-anchor="end">2</text>
<text x="24.9" y="10.7" text-anchor="end">3</text>
<text x="298.3" y="224.8" text-anchor="end">-3</text>
<text x="298.3" y="198.1" text-anchor="end">-2</text>
<text x="298.3" y="171.4" text-anchor="end">-1</text>
<text x="298.3" y="144.7" text-anchor="end">0</text>
<text x="298.3" y="118.0" text-anchor="end">1</text>
<text x="298.3" y="91.3" text-anchor="end">2</text>
<text x="298.3" y="64.6" text-anchor="end">3</text>
<text x="298.3" y="37.9" text-anchor="end">4</text>
<text x="298.3" y="11.2" text-anchor="end">5</text>
<text x="28.5" y="232.3" text-anchor="middle">0</text>
<text x="301.4" y="232.3" text-anchor="middle">0</text>
<text x="83.9" y="232.3" text-anchor="middle">0.5</text>
<text x="362.4" y="232.3" text-anchor="middle">0.5</text>
<text x="139.3" y="232.3" text-anchor="middle">1</text>
<text x="423.5" y="232.3" text-anchor="middle">1</text>
<text x="194.8" y="232.3" text-anchor="middle">1.5</text>
<text x="484.6" y="232.3" text-anchor="middle">1.5</text>
<text x="250.2" y="232.3" text-anchor="middle">2</text>
<text x="545.6" y="232.3" text-anchor="middle">2</text>
<text x="139.3" y="244.6" text-anchor="middle">t/s</text>
<text x="423.5" y="243.7" text-anchor="middle">t/s</text>
<text x="139.3" y="254.2" text-anchor="middle">(a)</text>
<text x="423.5" y="254.2" text-anchor="middle">(b)</text>
</g>
<text transform="translate(11.6 114.2) rotate(-90)" text-anchor="middle" font-family="Liberation Serif, serif" font-style="italic" font-size="11.6" fill="#333">e<tspan font-size="8" dy="2.2">ξ</tspan><tspan dy="-2.2">(t)</tspan></text>
<text transform="translate(284.6 114.6) rotate(-90)" text-anchor="middle" font-family="Liberation Serif, serif" font-style="italic" font-size="11.6" fill="#333">e<tspan font-size="8" dy="2.2">ξ</tspan><tspan dy="-2.2">(t)</tspan></text>
</svg>
</body></html>
